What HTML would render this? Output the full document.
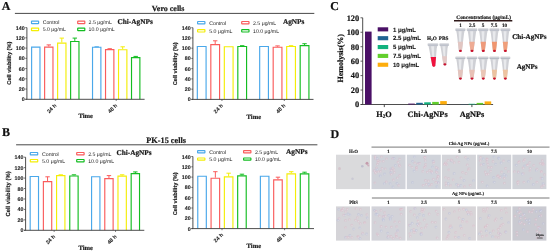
<!DOCTYPE html>
<html><head><meta charset="utf-8"><title>Figure</title>
<style>
html,body{margin:0;padding:0;background:#fff;}
body{width:550px;height:252px;overflow:hidden;}
svg{display:block;} text{text-rendering:geometricPrecision;}
</style></head>
<body>
<svg width="550" height="252" viewBox="0 0 550 252">
<defs><filter id="soft" x="-5%" y="-5%" width="110%" height="110%"><feGaussianBlur stdDeviation="0.35"/></filter></defs>
<rect width="550" height="252" fill="#ffffff"/>
<text x="1.7" y="10.3" font-family="'Liberation Serif', 'Times New Roman', serif" font-size="12" font-weight="bold" text-anchor="start" fill="#111" stroke="#111" stroke-width="0.2" >A</text>
<text x="1.9" y="136.4" font-family="'Liberation Serif', 'Times New Roman', serif" font-size="12" font-weight="bold" text-anchor="start" fill="#111" stroke="#111" stroke-width="0.2" >B</text>
<text x="330.3" y="10.1" font-family="'Liberation Serif', 'Times New Roman', serif" font-size="12" font-weight="bold" text-anchor="start" fill="#111" stroke="#111" stroke-width="0.2" >C</text>
<text x="330.4" y="137.9" font-family="'Liberation Serif', 'Times New Roman', serif" font-size="12" font-weight="bold" text-anchor="start" fill="#111" stroke="#111" stroke-width="0.2" >D</text>
<text x="151.8" y="10.6" font-family="'Liberation Serif', 'Times New Roman', serif" font-size="8.0" font-weight="bold" text-anchor="start" fill="#1a1a1a" stroke="#1a1a1a" stroke-width="0.2" >Vero cells</text>
<line x1="14.9" y1="13.4" x2="314.3" y2="13.4" stroke="#333" stroke-width="0.9"/>
<text x="146.3" y="142.5" font-family="'Liberation Serif', 'Times New Roman', serif" font-size="8.25" font-weight="bold" text-anchor="start" fill="#1a1a1a" stroke="#1a1a1a" stroke-width="0.2" >PK-15 cells</text>
<line x1="16.1" y1="144.8" x2="317.4" y2="144.8" stroke="#333" stroke-width="0.9"/>
<line x1="25.299999999999997" y1="99.3" x2="26.9" y2="99.3" stroke="#3a3a3a" stroke-width="0.7"/>
<text x="24.7" y="101.3" font-family="'Liberation Sans', Arial, sans-serif" font-size="5.3" font-weight="bold" text-anchor="end" fill="#222" stroke="#222" stroke-width="0.1" >0</text>
<line x1="25.299999999999997" y1="89.05714285714285" x2="26.9" y2="89.05714285714285" stroke="#3a3a3a" stroke-width="0.7"/>
<text x="24.7" y="91.05714285714285" font-family="'Liberation Sans', Arial, sans-serif" font-size="5.3" font-weight="bold" text-anchor="end" fill="#222" stroke="#222" stroke-width="0.1" >20</text>
<line x1="25.299999999999997" y1="78.81428571428572" x2="26.9" y2="78.81428571428572" stroke="#3a3a3a" stroke-width="0.7"/>
<text x="24.7" y="80.81428571428572" font-family="'Liberation Sans', Arial, sans-serif" font-size="5.3" font-weight="bold" text-anchor="end" fill="#222" stroke="#222" stroke-width="0.1" >40</text>
<line x1="25.299999999999997" y1="68.57142857142858" x2="26.9" y2="68.57142857142858" stroke="#3a3a3a" stroke-width="0.7"/>
<text x="24.7" y="70.57142857142858" font-family="'Liberation Sans', Arial, sans-serif" font-size="5.3" font-weight="bold" text-anchor="end" fill="#222" stroke="#222" stroke-width="0.1" >60</text>
<line x1="25.299999999999997" y1="58.328571428571436" x2="26.9" y2="58.328571428571436" stroke="#3a3a3a" stroke-width="0.7"/>
<text x="24.7" y="60.328571428571436" font-family="'Liberation Sans', Arial, sans-serif" font-size="5.3" font-weight="bold" text-anchor="end" fill="#222" stroke="#222" stroke-width="0.1" >80</text>
<line x1="25.299999999999997" y1="48.085714285714296" x2="26.9" y2="48.085714285714296" stroke="#3a3a3a" stroke-width="0.7"/>
<text x="24.7" y="50.085714285714296" font-family="'Liberation Sans', Arial, sans-serif" font-size="5.3" font-weight="bold" text-anchor="end" fill="#222" stroke="#222" stroke-width="0.1" >100</text>
<line x1="25.299999999999997" y1="37.842857142857156" x2="26.9" y2="37.842857142857156" stroke="#3a3a3a" stroke-width="0.7"/>
<text x="24.7" y="39.842857142857156" font-family="'Liberation Sans', Arial, sans-serif" font-size="5.3" font-weight="bold" text-anchor="end" fill="#222" stroke="#222" stroke-width="0.1" >120</text>
<line x1="25.299999999999997" y1="27.60000000000001" x2="26.9" y2="27.60000000000001" stroke="#3a3a3a" stroke-width="0.7"/>
<text x="24.7" y="29.60000000000001" font-family="'Liberation Sans', Arial, sans-serif" font-size="5.3" font-weight="bold" text-anchor="end" fill="#222" stroke="#222" stroke-width="0.1" >140</text>
<text x="10.6" y="63.2" font-family="'Liberation Sans', Arial, sans-serif" font-size="5.6" font-weight="bold" text-anchor="middle" fill="#1a1a1a" stroke="#1a1a1a" stroke-width="0.14" transform="rotate(-90 10.6 63.2)">Cell viability (%)</text>
<path d="M31.62 99.30V47.08H39.97V99.30" fill="none" stroke="#4aa8ea" stroke-width="1.15"/>
<path d="M44.62 99.30V47.08H52.97V99.30" fill="none" stroke="#fa5c5c" stroke-width="1.15"/>
<line x1="48.80" y1="46.50" x2="48.80" y2="44.90" stroke="#fa5c5c" stroke-width="1"/>
<line x1="46.60" y1="44.90" x2="51.00" y2="44.90" stroke="#fa5c5c" stroke-width="1"/>
<path d="M57.62 99.30V43.08H65.97V99.30" fill="none" stroke="#f4ee08" stroke-width="1.15"/>
<line x1="61.80" y1="42.50" x2="61.80" y2="38.10" stroke="#f4ee08" stroke-width="1"/>
<line x1="59.60" y1="38.10" x2="64.00" y2="38.10" stroke="#f4ee08" stroke-width="1"/>
<path d="M70.62 99.30V41.48H78.97V99.30" fill="none" stroke="#14bd22" stroke-width="1.15"/>
<line x1="74.80" y1="40.90" x2="74.80" y2="38.10" stroke="#14bd22" stroke-width="1"/>
<line x1="72.60" y1="38.10" x2="77.00" y2="38.10" stroke="#14bd22" stroke-width="1"/>
<line x1="55.3" y1="99.3" x2="55.3" y2="100.89999999999999" stroke="#3a3a3a" stroke-width="0.7"/>
<text x="56.80" y="105.90" font-family="'Liberation Sans', Arial, sans-serif" font-size="5.4" font-weight="bold" text-anchor="end" fill="#1a1a1a" stroke="#1a1a1a" stroke-width="0.05" transform="rotate(-45 56.80 105.90)">24 h</text>
<path d="M92.53 99.30V47.28H100.88V99.30" fill="none" stroke="#4aa8ea" stroke-width="1.15"/>
<line x1="96.70" y1="46.70" x2="96.70" y2="46.80" stroke="#4aa8ea" stroke-width="1"/>
<line x1="94.50" y1="46.80" x2="98.90" y2="46.80" stroke="#4aa8ea" stroke-width="1"/>
<path d="M105.53 99.30V49.58H113.88V99.30" fill="none" stroke="#fa5c5c" stroke-width="1.15"/>
<line x1="109.70" y1="49.00" x2="109.70" y2="48.70" stroke="#fa5c5c" stroke-width="1"/>
<line x1="107.50" y1="48.70" x2="111.90" y2="48.70" stroke="#fa5c5c" stroke-width="1"/>
<path d="M118.53 99.30V49.78H126.88V99.30" fill="none" stroke="#f4ee08" stroke-width="1.15"/>
<line x1="122.70" y1="49.20" x2="122.70" y2="46.80" stroke="#f4ee08" stroke-width="1"/>
<line x1="120.50" y1="46.80" x2="124.90" y2="46.80" stroke="#f4ee08" stroke-width="1"/>
<path d="M131.52 99.30V57.58H139.88V99.30" fill="none" stroke="#14bd22" stroke-width="1.15"/>
<line x1="135.70" y1="57.00" x2="135.70" y2="56.40" stroke="#14bd22" stroke-width="1"/>
<line x1="133.50" y1="56.40" x2="137.90" y2="56.40" stroke="#14bd22" stroke-width="1"/>
<line x1="116.2" y1="99.3" x2="116.2" y2="100.89999999999999" stroke="#3a3a3a" stroke-width="0.7"/>
<text x="117.70" y="105.90" font-family="'Liberation Sans', Arial, sans-serif" font-size="5.4" font-weight="bold" text-anchor="end" fill="#1a1a1a" stroke="#1a1a1a" stroke-width="0.05" transform="rotate(-45 117.70 105.90)">48 h</text>
<line x1="26.9" y1="27.6" x2="26.9" y2="99.3" stroke="#3a3a3a" stroke-width="0.9"/>
<line x1="25.4" y1="99.3" x2="144.6" y2="99.3" stroke="#3a3a3a" stroke-width="0.9"/>
<text x="78.5" y="118.4" font-family="'Liberation Serif', 'Times New Roman', serif" font-size="6.6" font-weight="bold" text-anchor="start" fill="#1a1a1a" stroke="#1a1a1a" stroke-width="0.2" >Time</text>
<rect x="31.50" y="21.20" width="7.10" height="2.40" fill="none" stroke="#4aa8ea" stroke-width="1.2" rx="0.4"/>
<text x="42.7" y="24.200000000000003" font-family="'Liberation Sans', Arial, sans-serif" font-size="5.2" font-weight="normal" text-anchor="start" fill="#222" >Control</text>
<rect x="77.70" y="21.20" width="7.10" height="2.40" fill="none" stroke="#fa5c5c" stroke-width="1.2" rx="0.4"/>
<text x="88.6" y="24.200000000000003" font-family="'Liberation Sans', Arial, sans-serif" font-size="5.2" font-weight="normal" text-anchor="start" fill="#222" >2.5 μg/mL</text>
<rect x="31.50" y="28.20" width="7.10" height="2.40" fill="none" stroke="#f4ee08" stroke-width="1.2" rx="0.4"/>
<text x="42.7" y="31.200000000000003" font-family="'Liberation Sans', Arial, sans-serif" font-size="5.2" font-weight="normal" text-anchor="start" fill="#222" >5.0 μg/mL</text>
<rect x="77.70" y="28.20" width="7.10" height="2.40" fill="none" stroke="#14bd22" stroke-width="1.2" rx="0.4"/>
<text x="88.6" y="31.200000000000003" font-family="'Liberation Sans', Arial, sans-serif" font-size="5.2" font-weight="normal" text-anchor="start" fill="#222" >10.0 μg/mL</text>
<text x="117.5" y="23.6" font-family="'Liberation Serif', 'Times New Roman', serif" font-size="7.3" font-weight="bold" text-anchor="start" fill="#1a1a1a" stroke="#1a1a1a" stroke-width="0.2" >Chi-AgNPs</text>
<line x1="191.3" y1="99.4" x2="192.9" y2="99.4" stroke="#3a3a3a" stroke-width="0.7"/>
<text x="190.70000000000002" y="101.4" font-family="'Liberation Sans', Arial, sans-serif" font-size="5.3" font-weight="bold" text-anchor="end" fill="#222" stroke="#222" stroke-width="0.1" >0</text>
<line x1="191.3" y1="89.15714285714286" x2="192.9" y2="89.15714285714286" stroke="#3a3a3a" stroke-width="0.7"/>
<text x="190.70000000000002" y="91.15714285714286" font-family="'Liberation Sans', Arial, sans-serif" font-size="5.3" font-weight="bold" text-anchor="end" fill="#222" stroke="#222" stroke-width="0.1" >20</text>
<line x1="191.3" y1="78.91428571428573" x2="192.9" y2="78.91428571428573" stroke="#3a3a3a" stroke-width="0.7"/>
<text x="190.70000000000002" y="80.91428571428573" font-family="'Liberation Sans', Arial, sans-serif" font-size="5.3" font-weight="bold" text-anchor="end" fill="#222" stroke="#222" stroke-width="0.1" >40</text>
<line x1="191.3" y1="68.67142857142858" x2="192.9" y2="68.67142857142858" stroke="#3a3a3a" stroke-width="0.7"/>
<text x="190.70000000000002" y="70.67142857142858" font-family="'Liberation Sans', Arial, sans-serif" font-size="5.3" font-weight="bold" text-anchor="end" fill="#222" stroke="#222" stroke-width="0.1" >60</text>
<line x1="191.3" y1="58.42857142857144" x2="192.9" y2="58.42857142857144" stroke="#3a3a3a" stroke-width="0.7"/>
<text x="190.70000000000002" y="60.42857142857144" font-family="'Liberation Sans', Arial, sans-serif" font-size="5.3" font-weight="bold" text-anchor="end" fill="#222" stroke="#222" stroke-width="0.1" >80</text>
<line x1="191.3" y1="48.18571428571429" x2="192.9" y2="48.18571428571429" stroke="#3a3a3a" stroke-width="0.7"/>
<text x="190.70000000000002" y="50.18571428571429" font-family="'Liberation Sans', Arial, sans-serif" font-size="5.3" font-weight="bold" text-anchor="end" fill="#222" stroke="#222" stroke-width="0.1" >100</text>
<line x1="191.3" y1="37.94285714285715" x2="192.9" y2="37.94285714285715" stroke="#3a3a3a" stroke-width="0.7"/>
<text x="190.70000000000002" y="39.94285714285715" font-family="'Liberation Sans', Arial, sans-serif" font-size="5.3" font-weight="bold" text-anchor="end" fill="#222" stroke="#222" stroke-width="0.1" >120</text>
<line x1="191.3" y1="27.700000000000003" x2="192.9" y2="27.700000000000003" stroke="#3a3a3a" stroke-width="0.7"/>
<text x="190.70000000000002" y="29.700000000000003" font-family="'Liberation Sans', Arial, sans-serif" font-size="5.3" font-weight="bold" text-anchor="end" fill="#222" stroke="#222" stroke-width="0.1" >140</text>
<text x="176.6" y="63.8" font-family="'Liberation Sans', Arial, sans-serif" font-size="5.6" font-weight="bold" text-anchor="middle" fill="#1a1a1a" stroke="#1a1a1a" stroke-width="0.14" transform="rotate(-90 176.6 63.8)">Cell viability (%)</text>
<path d="M197.32 99.40V46.48H206.08V99.40" fill="none" stroke="#4aa8ea" stroke-width="1.15"/>
<path d="M210.82 99.40V44.58H219.58V99.40" fill="none" stroke="#fa5c5c" stroke-width="1.15"/>
<line x1="215.20" y1="44.00" x2="215.20" y2="40.80" stroke="#fa5c5c" stroke-width="1"/>
<line x1="213.00" y1="40.80" x2="217.40" y2="40.80" stroke="#fa5c5c" stroke-width="1"/>
<path d="M224.32 99.40V46.78H233.08V99.40" fill="none" stroke="#f4ee08" stroke-width="1.15"/>
<path d="M237.82 99.40V46.48H246.58V99.40" fill="none" stroke="#14bd22" stroke-width="1.15"/>
<line x1="242.20" y1="45.90" x2="242.20" y2="45.70" stroke="#14bd22" stroke-width="1"/>
<line x1="240.00" y1="45.70" x2="244.40" y2="45.70" stroke="#14bd22" stroke-width="1"/>
<line x1="221.95" y1="99.4" x2="221.95" y2="101.0" stroke="#3a3a3a" stroke-width="0.7"/>
<text x="223.45" y="106.00" font-family="'Liberation Sans', Arial, sans-serif" font-size="5.4" font-weight="bold" text-anchor="end" fill="#1a1a1a" stroke="#1a1a1a" stroke-width="0.05" transform="rotate(-45 223.45 106.00)">24 h</text>
<path d="M259.68 99.40V46.48H268.43V99.40" fill="none" stroke="#4aa8ea" stroke-width="1.15"/>
<path d="M273.18 99.40V47.28H281.93V99.40" fill="none" stroke="#fa5c5c" stroke-width="1.15"/>
<line x1="277.55" y1="46.70" x2="277.55" y2="45.90" stroke="#fa5c5c" stroke-width="1"/>
<line x1="275.35" y1="45.90" x2="279.75" y2="45.90" stroke="#fa5c5c" stroke-width="1"/>
<path d="M286.68 99.40V46.48H295.43V99.40" fill="none" stroke="#f4ee08" stroke-width="1.15"/>
<line x1="291.05" y1="45.90" x2="291.05" y2="45.70" stroke="#f4ee08" stroke-width="1"/>
<line x1="288.85" y1="45.70" x2="293.25" y2="45.70" stroke="#f4ee08" stroke-width="1"/>
<path d="M300.18 99.40V45.58H308.93V99.40" fill="none" stroke="#14bd22" stroke-width="1.15"/>
<line x1="304.55" y1="45.00" x2="304.55" y2="43.70" stroke="#14bd22" stroke-width="1"/>
<line x1="302.35" y1="43.70" x2="306.75" y2="43.70" stroke="#14bd22" stroke-width="1"/>
<line x1="284.3" y1="99.4" x2="284.3" y2="101.0" stroke="#3a3a3a" stroke-width="0.7"/>
<text x="285.80" y="106.00" font-family="'Liberation Sans', Arial, sans-serif" font-size="5.4" font-weight="bold" text-anchor="end" fill="#1a1a1a" stroke="#1a1a1a" stroke-width="0.05" transform="rotate(-45 285.80 106.00)">48 h</text>
<line x1="192.9" y1="27.7" x2="192.9" y2="99.4" stroke="#3a3a3a" stroke-width="0.9"/>
<line x1="191.4" y1="99.4" x2="313.5" y2="99.4" stroke="#3a3a3a" stroke-width="0.9"/>
<text x="246.6" y="118.5" font-family="'Liberation Serif', 'Times New Roman', serif" font-size="6.6" font-weight="bold" text-anchor="start" fill="#1a1a1a" stroke="#1a1a1a" stroke-width="0.2" >Time</text>
<rect x="197.60" y="21.50" width="7.30" height="2.40" fill="none" stroke="#4aa8ea" stroke-width="1.2" rx="0.4"/>
<text x="209.3" y="24.5" font-family="'Liberation Sans', Arial, sans-serif" font-size="5.2" font-weight="normal" text-anchor="start" fill="#222" >Control</text>
<rect x="241.70" y="21.50" width="7.30" height="2.40" fill="none" stroke="#fa5c5c" stroke-width="1.2" rx="0.4"/>
<text x="253.0" y="24.5" font-family="'Liberation Sans', Arial, sans-serif" font-size="5.2" font-weight="normal" text-anchor="start" fill="#222" >2.5 μg/mL</text>
<rect x="197.60" y="29.60" width="7.30" height="2.40" fill="none" stroke="#f4ee08" stroke-width="1.2" rx="0.4"/>
<text x="209.3" y="32.6" font-family="'Liberation Sans', Arial, sans-serif" font-size="5.2" font-weight="normal" text-anchor="start" fill="#222" >5.0 μg/mL</text>
<rect x="241.70" y="29.60" width="7.30" height="2.40" fill="none" stroke="#14bd22" stroke-width="1.2" rx="0.4"/>
<text x="253.0" y="32.6" font-family="'Liberation Sans', Arial, sans-serif" font-size="5.2" font-weight="normal" text-anchor="start" fill="#222" >10.0 μg/mL</text>
<text x="282.9" y="23.6" font-family="'Liberation Serif', 'Times New Roman', serif" font-size="7.3" font-weight="bold" text-anchor="start" fill="#1a1a1a" stroke="#1a1a1a" stroke-width="0.2" >AgNPs</text>
<line x1="24.0" y1="230.3" x2="25.6" y2="230.3" stroke="#3a3a3a" stroke-width="0.7"/>
<text x="23.400000000000002" y="232.3" font-family="'Liberation Sans', Arial, sans-serif" font-size="5.3" font-weight="bold" text-anchor="end" fill="#222" stroke="#222" stroke-width="0.1" >0</text>
<line x1="24.0" y1="219.85714285714286" x2="25.6" y2="219.85714285714286" stroke="#3a3a3a" stroke-width="0.7"/>
<text x="23.400000000000002" y="221.85714285714286" font-family="'Liberation Sans', Arial, sans-serif" font-size="5.3" font-weight="bold" text-anchor="end" fill="#222" stroke="#222" stroke-width="0.1" >20</text>
<line x1="24.0" y1="209.4142857142857" x2="25.6" y2="209.4142857142857" stroke="#3a3a3a" stroke-width="0.7"/>
<text x="23.400000000000002" y="211.4142857142857" font-family="'Liberation Sans', Arial, sans-serif" font-size="5.3" font-weight="bold" text-anchor="end" fill="#222" stroke="#222" stroke-width="0.1" >40</text>
<line x1="24.0" y1="198.97142857142856" x2="25.6" y2="198.97142857142856" stroke="#3a3a3a" stroke-width="0.7"/>
<text x="23.400000000000002" y="200.97142857142856" font-family="'Liberation Sans', Arial, sans-serif" font-size="5.3" font-weight="bold" text-anchor="end" fill="#222" stroke="#222" stroke-width="0.1" >60</text>
<line x1="24.0" y1="188.5285714285714" x2="25.6" y2="188.5285714285714" stroke="#3a3a3a" stroke-width="0.7"/>
<text x="23.400000000000002" y="190.5285714285714" font-family="'Liberation Sans', Arial, sans-serif" font-size="5.3" font-weight="bold" text-anchor="end" fill="#222" stroke="#222" stroke-width="0.1" >80</text>
<line x1="24.0" y1="178.0857142857143" x2="25.6" y2="178.0857142857143" stroke="#3a3a3a" stroke-width="0.7"/>
<text x="23.400000000000002" y="180.0857142857143" font-family="'Liberation Sans', Arial, sans-serif" font-size="5.3" font-weight="bold" text-anchor="end" fill="#222" stroke="#222" stroke-width="0.1" >100</text>
<line x1="24.0" y1="167.64285714285714" x2="25.6" y2="167.64285714285714" stroke="#3a3a3a" stroke-width="0.7"/>
<text x="23.400000000000002" y="169.64285714285714" font-family="'Liberation Sans', Arial, sans-serif" font-size="5.3" font-weight="bold" text-anchor="end" fill="#222" stroke="#222" stroke-width="0.1" >120</text>
<line x1="24.0" y1="157.2" x2="25.6" y2="157.2" stroke="#3a3a3a" stroke-width="0.7"/>
<text x="23.400000000000002" y="159.2" font-family="'Liberation Sans', Arial, sans-serif" font-size="5.3" font-weight="bold" text-anchor="end" fill="#222" stroke="#222" stroke-width="0.1" >140</text>
<text x="9.8" y="194.0" font-family="'Liberation Sans', Arial, sans-serif" font-size="5.9" font-weight="bold" text-anchor="middle" fill="#1a1a1a" stroke="#1a1a1a" stroke-width="0.14" transform="rotate(-90 9.8 194.0)">Cell viability (%)</text>
<path d="M30.18 230.30V176.47H38.52V230.30" fill="none" stroke="#4aa8ea" stroke-width="1.15"/>
<path d="M43.38 230.30V181.67H51.72V230.30" fill="none" stroke="#fa5c5c" stroke-width="1.15"/>
<line x1="47.55" y1="181.10" x2="47.55" y2="176.80" stroke="#fa5c5c" stroke-width="1"/>
<line x1="45.35" y1="176.80" x2="49.75" y2="176.80" stroke="#fa5c5c" stroke-width="1"/>
<path d="M56.58 230.30V175.67H64.92V230.30" fill="none" stroke="#f4ee08" stroke-width="1.15"/>
<line x1="60.75" y1="175.10" x2="60.75" y2="174.80" stroke="#f4ee08" stroke-width="1"/>
<line x1="58.55" y1="174.80" x2="62.95" y2="174.80" stroke="#f4ee08" stroke-width="1"/>
<path d="M69.77 230.30V175.97H78.12V230.30" fill="none" stroke="#14bd22" stroke-width="1.15"/>
<line x1="73.95" y1="175.40" x2="73.95" y2="174.80" stroke="#14bd22" stroke-width="1"/>
<line x1="71.75" y1="174.80" x2="76.15" y2="174.80" stroke="#14bd22" stroke-width="1"/>
<line x1="54.15" y1="230.3" x2="54.15" y2="231.9" stroke="#3a3a3a" stroke-width="0.7"/>
<text x="55.65" y="236.90" font-family="'Liberation Sans', Arial, sans-serif" font-size="5.4" font-weight="bold" text-anchor="end" fill="#1a1a1a" stroke="#1a1a1a" stroke-width="0.05" transform="rotate(-45 55.65 236.90)">24 h</text>
<path d="M91.58 230.30V176.77H99.92V230.30" fill="none" stroke="#4aa8ea" stroke-width="1.15"/>
<path d="M104.78 230.30V178.57H113.12V230.30" fill="none" stroke="#fa5c5c" stroke-width="1.15"/>
<line x1="108.95" y1="178.00" x2="108.95" y2="175.60" stroke="#fa5c5c" stroke-width="1"/>
<line x1="106.75" y1="175.60" x2="111.15" y2="175.60" stroke="#fa5c5c" stroke-width="1"/>
<path d="M117.98 230.30V176.17H126.33V230.30" fill="none" stroke="#f4ee08" stroke-width="1.15"/>
<line x1="122.15" y1="175.60" x2="122.15" y2="174.80" stroke="#f4ee08" stroke-width="1"/>
<line x1="119.95" y1="174.80" x2="124.35" y2="174.80" stroke="#f4ee08" stroke-width="1"/>
<path d="M131.17 230.30V173.57H139.53V230.30" fill="none" stroke="#14bd22" stroke-width="1.15"/>
<line x1="135.35" y1="173.00" x2="135.35" y2="171.90" stroke="#14bd22" stroke-width="1"/>
<line x1="133.15" y1="171.90" x2="137.55" y2="171.90" stroke="#14bd22" stroke-width="1"/>
<line x1="115.55" y1="230.3" x2="115.55" y2="231.9" stroke="#3a3a3a" stroke-width="0.7"/>
<text x="117.05" y="236.90" font-family="'Liberation Sans', Arial, sans-serif" font-size="5.4" font-weight="bold" text-anchor="end" fill="#1a1a1a" stroke="#1a1a1a" stroke-width="0.05" transform="rotate(-45 117.05 236.90)">48 h</text>
<line x1="25.6" y1="157.2" x2="25.6" y2="230.3" stroke="#3a3a3a" stroke-width="0.9"/>
<line x1="24.1" y1="230.3" x2="144.3" y2="230.3" stroke="#3a3a3a" stroke-width="0.9"/>
<text x="78.4" y="249.7" font-family="'Liberation Serif', 'Times New Roman', serif" font-size="6.6" font-weight="bold" text-anchor="start" fill="#1a1a1a" stroke="#1a1a1a" stroke-width="0.2" >Time</text>
<rect x="30.30" y="152.50" width="7.40" height="2.40" fill="none" stroke="#4aa8ea" stroke-width="1.2" rx="0.4"/>
<text x="42.0" y="155.50000000000003" font-family="'Liberation Sans', Arial, sans-serif" font-size="5.2" font-weight="normal" text-anchor="start" fill="#222" >Control</text>
<rect x="76.70" y="152.50" width="7.40" height="2.40" fill="none" stroke="#fa5c5c" stroke-width="1.2" rx="0.4"/>
<text x="88.2" y="155.50000000000003" font-family="'Liberation Sans', Arial, sans-serif" font-size="5.2" font-weight="normal" text-anchor="start" fill="#222" >2.5 μg/mL</text>
<rect x="30.30" y="159.50" width="7.40" height="2.40" fill="none" stroke="#f4ee08" stroke-width="1.2" rx="0.4"/>
<text x="42.0" y="162.50000000000003" font-family="'Liberation Sans', Arial, sans-serif" font-size="5.2" font-weight="normal" text-anchor="start" fill="#222" >5.0 μg/mL</text>
<rect x="76.70" y="159.50" width="7.40" height="2.40" fill="none" stroke="#14bd22" stroke-width="1.2" rx="0.4"/>
<text x="88.2" y="162.50000000000003" font-family="'Liberation Sans', Arial, sans-serif" font-size="5.2" font-weight="normal" text-anchor="start" fill="#222" >10.0 μg/mL</text>
<text x="116.4" y="154.5" font-family="'Liberation Serif', 'Times New Roman', serif" font-size="7.3" font-weight="bold" text-anchor="start" fill="#1a1a1a" stroke="#1a1a1a" stroke-width="0.2" >Chi-AgNPs</text>
<line x1="191.3" y1="228.6" x2="192.9" y2="228.6" stroke="#3a3a3a" stroke-width="0.7"/>
<text x="190.70000000000002" y="230.6" font-family="'Liberation Sans', Arial, sans-serif" font-size="5.3" font-weight="bold" text-anchor="end" fill="#222" stroke="#222" stroke-width="0.1" >0</text>
<line x1="191.3" y1="218.29999999999998" x2="192.9" y2="218.29999999999998" stroke="#3a3a3a" stroke-width="0.7"/>
<text x="190.70000000000002" y="220.29999999999998" font-family="'Liberation Sans', Arial, sans-serif" font-size="5.3" font-weight="bold" text-anchor="end" fill="#222" stroke="#222" stroke-width="0.1" >20</text>
<line x1="191.3" y1="208.0" x2="192.9" y2="208.0" stroke="#3a3a3a" stroke-width="0.7"/>
<text x="190.70000000000002" y="210.0" font-family="'Liberation Sans', Arial, sans-serif" font-size="5.3" font-weight="bold" text-anchor="end" fill="#222" stroke="#222" stroke-width="0.1" >40</text>
<line x1="191.3" y1="197.7" x2="192.9" y2="197.7" stroke="#3a3a3a" stroke-width="0.7"/>
<text x="190.70000000000002" y="199.7" font-family="'Liberation Sans', Arial, sans-serif" font-size="5.3" font-weight="bold" text-anchor="end" fill="#222" stroke="#222" stroke-width="0.1" >60</text>
<line x1="191.3" y1="187.39999999999998" x2="192.9" y2="187.39999999999998" stroke="#3a3a3a" stroke-width="0.7"/>
<text x="190.70000000000002" y="189.39999999999998" font-family="'Liberation Sans', Arial, sans-serif" font-size="5.3" font-weight="bold" text-anchor="end" fill="#222" stroke="#222" stroke-width="0.1" >80</text>
<line x1="191.3" y1="177.1" x2="192.9" y2="177.1" stroke="#3a3a3a" stroke-width="0.7"/>
<text x="190.70000000000002" y="179.1" font-family="'Liberation Sans', Arial, sans-serif" font-size="5.3" font-weight="bold" text-anchor="end" fill="#222" stroke="#222" stroke-width="0.1" >100</text>
<line x1="191.3" y1="166.79999999999998" x2="192.9" y2="166.79999999999998" stroke="#3a3a3a" stroke-width="0.7"/>
<text x="190.70000000000002" y="168.79999999999998" font-family="'Liberation Sans', Arial, sans-serif" font-size="5.3" font-weight="bold" text-anchor="end" fill="#222" stroke="#222" stroke-width="0.1" >120</text>
<line x1="191.3" y1="156.5" x2="192.9" y2="156.5" stroke="#3a3a3a" stroke-width="0.7"/>
<text x="190.70000000000002" y="158.5" font-family="'Liberation Sans', Arial, sans-serif" font-size="5.3" font-weight="bold" text-anchor="end" fill="#222" stroke="#222" stroke-width="0.1" >140</text>
<text x="176.6" y="193.8" font-family="'Liberation Sans', Arial, sans-serif" font-size="5.6" font-weight="bold" text-anchor="middle" fill="#1a1a1a" stroke="#1a1a1a" stroke-width="0.14" transform="rotate(-90 176.6 193.8)">Cell viability (%)</text>
<path d="M197.77 228.60V176.27H206.32V228.60" fill="none" stroke="#4aa8ea" stroke-width="1.15"/>
<path d="M211.07 228.60V178.27H219.62V228.60" fill="none" stroke="#fa5c5c" stroke-width="1.15"/>
<line x1="215.35" y1="177.70" x2="215.35" y2="171.70" stroke="#fa5c5c" stroke-width="1"/>
<line x1="213.15" y1="171.70" x2="217.55" y2="171.70" stroke="#fa5c5c" stroke-width="1"/>
<path d="M224.37 228.60V176.88H232.92V228.60" fill="none" stroke="#f4ee08" stroke-width="1.15"/>
<line x1="228.65" y1="176.30" x2="228.65" y2="173.20" stroke="#f4ee08" stroke-width="1"/>
<line x1="226.45" y1="173.20" x2="230.85" y2="173.20" stroke="#f4ee08" stroke-width="1"/>
<path d="M237.67 228.60V175.88H246.22V228.60" fill="none" stroke="#14bd22" stroke-width="1.15"/>
<line x1="241.95" y1="175.30" x2="241.95" y2="174.20" stroke="#14bd22" stroke-width="1"/>
<line x1="239.75" y1="174.20" x2="244.15" y2="174.20" stroke="#14bd22" stroke-width="1"/>
<line x1="222.0" y1="228.6" x2="222.0" y2="230.2" stroke="#3a3a3a" stroke-width="0.7"/>
<text x="223.50" y="235.20" font-family="'Liberation Sans', Arial, sans-serif" font-size="5.4" font-weight="bold" text-anchor="end" fill="#1a1a1a" stroke="#1a1a1a" stroke-width="0.05" transform="rotate(-45 223.50 235.20)">24 h</text>
<path d="M260.38 228.60V176.27H268.93V228.60" fill="none" stroke="#4aa8ea" stroke-width="1.15"/>
<path d="M273.68 228.60V179.88H282.23V228.60" fill="none" stroke="#fa5c5c" stroke-width="1.15"/>
<line x1="277.95" y1="179.30" x2="277.95" y2="177.20" stroke="#fa5c5c" stroke-width="1"/>
<line x1="275.75" y1="177.20" x2="280.15" y2="177.20" stroke="#fa5c5c" stroke-width="1"/>
<path d="M286.98 228.60V173.88H295.53V228.60" fill="none" stroke="#f4ee08" stroke-width="1.15"/>
<line x1="291.25" y1="173.30" x2="291.25" y2="171.70" stroke="#f4ee08" stroke-width="1"/>
<line x1="289.05" y1="171.70" x2="293.45" y2="171.70" stroke="#f4ee08" stroke-width="1"/>
<path d="M300.28 228.60V173.88H308.83V228.60" fill="none" stroke="#14bd22" stroke-width="1.15"/>
<line x1="304.55" y1="173.30" x2="304.55" y2="172.20" stroke="#14bd22" stroke-width="1"/>
<line x1="302.35" y1="172.20" x2="306.75" y2="172.20" stroke="#14bd22" stroke-width="1"/>
<line x1="284.6" y1="228.6" x2="284.6" y2="230.2" stroke="#3a3a3a" stroke-width="0.7"/>
<text x="286.10" y="235.20" font-family="'Liberation Sans', Arial, sans-serif" font-size="5.4" font-weight="bold" text-anchor="end" fill="#1a1a1a" stroke="#1a1a1a" stroke-width="0.05" transform="rotate(-45 286.10 235.20)">48 h</text>
<line x1="192.9" y1="156.5" x2="192.9" y2="228.6" stroke="#3a3a3a" stroke-width="0.9"/>
<line x1="191.4" y1="228.6" x2="314.0" y2="228.6" stroke="#3a3a3a" stroke-width="0.9"/>
<text x="246.6" y="248.2" font-family="'Liberation Serif', 'Times New Roman', serif" font-size="6.6" font-weight="bold" text-anchor="start" fill="#1a1a1a" stroke="#1a1a1a" stroke-width="0.2" >Time</text>
<rect x="197.60" y="150.70" width="7.30" height="2.20" fill="none" stroke="#4aa8ea" stroke-width="1.2" rx="0.4"/>
<text x="209.3" y="153.6" font-family="'Liberation Sans', Arial, sans-serif" font-size="5.2" font-weight="normal" text-anchor="start" fill="#222" >Control</text>
<rect x="243.60" y="150.70" width="7.30" height="2.20" fill="none" stroke="#fa5c5c" stroke-width="1.2" rx="0.4"/>
<text x="254.9" y="153.6" font-family="'Liberation Sans', Arial, sans-serif" font-size="5.2" font-weight="normal" text-anchor="start" fill="#222" >2.5 μg/mL</text>
<rect x="197.60" y="158.00" width="7.30" height="2.20" fill="none" stroke="#f4ee08" stroke-width="1.2" rx="0.4"/>
<text x="209.3" y="160.9" font-family="'Liberation Sans', Arial, sans-serif" font-size="5.2" font-weight="normal" text-anchor="start" fill="#222" >5.0 μg/mL</text>
<rect x="243.60" y="158.00" width="7.30" height="2.20" fill="none" stroke="#14bd22" stroke-width="1.2" rx="0.4"/>
<text x="254.9" y="160.9" font-family="'Liberation Sans', Arial, sans-serif" font-size="5.2" font-weight="normal" text-anchor="start" fill="#222" >10.0 μg/mL</text>
<text x="286.0" y="154.3" font-family="'Liberation Serif', 'Times New Roman', serif" font-size="7.3" font-weight="bold" text-anchor="start" fill="#1a1a1a" stroke="#1a1a1a" stroke-width="0.2" >AgNPs</text>
<line x1="362.7" y1="17.8" x2="362.7" y2="104.5" stroke="#3a3a3a" stroke-width="0.9"/>
<line x1="360.7" y1="104.5" x2="493.1" y2="104.5" stroke="#3a3a3a" stroke-width="0.9"/>
<line x1="360.5" y1="104.5" x2="362.7" y2="104.5" stroke="#3a3a3a" stroke-width="0.8"/>
<text x="359.2" y="107.3" font-family="'Liberation Serif', 'Times New Roman', serif" font-size="8.4" font-weight="bold" text-anchor="end" fill="#111" stroke="#111" stroke-width="0.15" >0</text>
<line x1="360.5" y1="90.05" x2="362.7" y2="90.05" stroke="#3a3a3a" stroke-width="0.8"/>
<text x="359.2" y="92.85" font-family="'Liberation Serif', 'Times New Roman', serif" font-size="8.4" font-weight="bold" text-anchor="end" fill="#111" stroke="#111" stroke-width="0.15" >20</text>
<line x1="360.5" y1="75.6" x2="362.7" y2="75.6" stroke="#3a3a3a" stroke-width="0.8"/>
<text x="359.2" y="78.39999999999999" font-family="'Liberation Serif', 'Times New Roman', serif" font-size="8.4" font-weight="bold" text-anchor="end" fill="#111" stroke="#111" stroke-width="0.15" >40</text>
<line x1="360.5" y1="61.15" x2="362.7" y2="61.15" stroke="#3a3a3a" stroke-width="0.8"/>
<text x="359.2" y="63.949999999999996" font-family="'Liberation Serif', 'Times New Roman', serif" font-size="8.4" font-weight="bold" text-anchor="end" fill="#111" stroke="#111" stroke-width="0.15" >60</text>
<line x1="360.5" y1="46.699999999999996" x2="362.7" y2="46.699999999999996" stroke="#3a3a3a" stroke-width="0.8"/>
<text x="359.2" y="49.49999999999999" font-family="'Liberation Serif', 'Times New Roman', serif" font-size="8.4" font-weight="bold" text-anchor="end" fill="#111" stroke="#111" stroke-width="0.15" >80</text>
<line x1="360.5" y1="32.25" x2="362.7" y2="32.25" stroke="#3a3a3a" stroke-width="0.8"/>
<text x="359.2" y="35.05" font-family="'Liberation Serif', 'Times New Roman', serif" font-size="8.4" font-weight="bold" text-anchor="end" fill="#111" stroke="#111" stroke-width="0.15" >100</text>
<line x1="360.5" y1="17.799999999999997" x2="362.7" y2="17.799999999999997" stroke="#3a3a3a" stroke-width="0.8"/>
<text x="359.2" y="20.599999999999998" font-family="'Liberation Serif', 'Times New Roman', serif" font-size="8.4" font-weight="bold" text-anchor="end" fill="#111" stroke="#111" stroke-width="0.15" >120</text>
<text x="342.6" y="58.2" font-family="'Liberation Serif', 'Times New Roman', serif" font-size="8" font-weight="bold" text-anchor="middle" fill="#111" stroke="#111" stroke-width="0.2" transform="rotate(-90 342.6 58.2)">Hemolysis(%)</text>
<rect x="365.00" y="31.60" width="6.6" height="72.90" fill="#4a1066"/>
<line x1="384.3" y1="104.5" x2="384.3" y2="107.1" stroke="#3a3a3a" stroke-width="0.9"/>
<rect x="408.20" y="103.60" width="6.6" height="0.90" fill="#4a1066"/>
<rect x="416.20" y="102.80" width="6.6" height="1.70" fill="#1f6392"/>
<rect x="424.20" y="102.30" width="6.6" height="2.20" fill="#12b27e"/>
<rect x="432.20" y="101.90" width="6.6" height="2.60" fill="#62cf2c"/>
<rect x="440.20" y="101.10" width="6.6" height="3.40" fill="#fdad0c"/>
<line x1="427.5" y1="104.5" x2="427.5" y2="107.1" stroke="#3a3a3a" stroke-width="0.9"/>
<rect x="460.60" y="104.30" width="6.6" height="0.20" fill="#1f6392"/>
<rect x="468.60" y="103.80" width="6.6" height="0.70" fill="#12b27e"/>
<rect x="476.60" y="102.90" width="6.6" height="1.60" fill="#62cf2c"/>
<rect x="484.60" y="101.40" width="6.6" height="3.10" fill="#fdad0c"/>
<line x1="471.9" y1="104.5" x2="471.9" y2="107.1" stroke="#3a3a3a" stroke-width="0.9"/>
<text x="376.2" y="117.0" font-family="'Liberation Serif', 'Times New Roman', serif" font-size="8.3" font-weight="bold" text-anchor="start" fill="#111" stroke="#111" stroke-width="0.2" >H<tspan font-size="5.2" dy="1.2">2</tspan><tspan dy="-1.2">O</tspan></text>
<text x="427.6" y="117.0" font-family="'Liberation Serif', 'Times New Roman', serif" font-size="8.3" font-weight="bold" text-anchor="middle" fill="#111" stroke="#111" stroke-width="0.2" >Chi-AgNPs</text>
<text x="472.0" y="117.0" font-family="'Liberation Serif', 'Times New Roman', serif" font-size="8.3" font-weight="bold" text-anchor="middle" fill="#111" stroke="#111" stroke-width="0.2" >AgNPs</text>
<rect x="377.7" y="27.30" width="10.5" height="4.1" fill="#4a1066"/>
<text x="392.9" y="31.5" font-family="'Liberation Sans', Arial, sans-serif" font-size="6.0" font-weight="bold" text-anchor="start" fill="#111" stroke="#111" stroke-width="0.1" >1 μg/mL</text>
<rect x="377.7" y="36.15" width="10.5" height="4.1" fill="#1f6392"/>
<text x="392.9" y="40.35" font-family="'Liberation Sans', Arial, sans-serif" font-size="6.0" font-weight="bold" text-anchor="start" fill="#111" stroke="#111" stroke-width="0.1" >2.5 μg/mL</text>
<rect x="377.7" y="45.00" width="10.5" height="4.1" fill="#12b27e"/>
<text x="392.9" y="49.2" font-family="'Liberation Sans', Arial, sans-serif" font-size="6.0" font-weight="bold" text-anchor="start" fill="#111" stroke="#111" stroke-width="0.1" >5 μg/mL</text>
<rect x="377.7" y="53.85" width="10.5" height="4.1" fill="#62cf2c"/>
<text x="392.9" y="58.05" font-family="'Liberation Sans', Arial, sans-serif" font-size="6.0" font-weight="bold" text-anchor="start" fill="#111" stroke="#111" stroke-width="0.1" >7.5 μg/mL</text>
<rect x="377.7" y="62.70" width="10.5" height="4.1" fill="#fdad0c"/>
<text x="392.9" y="66.9" font-family="'Liberation Sans', Arial, sans-serif" font-size="6.0" font-weight="bold" text-anchor="start" fill="#111" stroke="#111" stroke-width="0.1" >10 μg/mL</text>
<text x="431.8" y="40.3" font-family="'Liberation Serif', 'Times New Roman', serif" font-size="5.2" font-weight="bold" text-anchor="middle" fill="#222" stroke="#222" stroke-width="0.2" >H<tspan font-size="3.4" dy="0.6">2</tspan><tspan dy="-0.6">O</tspan></text>
<text x="443.6" y="40.3" font-family="'Liberation Serif', 'Times New Roman', serif" font-size="5.2" font-weight="bold" text-anchor="middle" fill="#222" stroke="#222" stroke-width="0.2" >PBS</text>
<polygon points="428.50,45.70 437.30,45.70 436.70,48.70 435.30,66.00 433.80,67.00 432.30,66.00 429.10,48.70" fill="#cfd0d5"/>
<polygon points="431.10,46.20 434.10,46.20 434.10,62.00 433.00,62.00" fill="#e8e9ec"/>
<polygon points="430.62,56.90 436.04,56.90 435.30,66.00 433.80,67.00 432.30,66.00" fill="#f0123e"/>
<rect x="427.50" y="43.30" width="10.80" height="2.6" rx="0.9" fill="#d3d5da"/>
<rect x="428.10" y="44.70" width="9.60" height="0.8" fill="#aab0bd"/>
<polygon points="440.30,45.70 448.10,45.70 447.50,48.70 446.40,64.60 444.90,65.60 443.40,64.60 440.90,48.70" fill="#cfd0d5"/>
<polygon points="442.40,46.20 445.40,46.20 445.20,60.60 444.10,60.60" fill="#e8e9ec"/>
<polygon points="442.09,56.30 446.97,56.30 446.40,64.60 444.90,65.60 443.40,64.60" fill="#e3c9c6"/>
<ellipse cx="444.90" cy="64.40" rx="1.45" ry="1.05" fill="#c80f2e"/>
<rect x="439.30" y="43.30" width="9.80" height="2.6" rx="0.9" fill="#d3d5da"/>
<rect x="439.90" y="44.70" width="8.60" height="0.8" fill="#aab0bd"/>
<text x="483.7" y="18.7" font-family="'Liberation Serif', 'Times New Roman', serif" font-size="5.3" font-weight="bold" text-anchor="middle" fill="#222" stroke="#222" stroke-width="0.2" >Concentrations  (μg/mL)</text>
<line x1="454.0" y1="20.7" x2="512.3" y2="20.7" stroke="#2e1818" stroke-width="1.6"/>
<text x="460.5" y="26.9" font-family="'Liberation Serif', 'Times New Roman', serif" font-size="5.2" font-weight="bold" text-anchor="middle" fill="#222" stroke="#222" stroke-width="0.15" >1</text>
<text x="472.2" y="26.9" font-family="'Liberation Serif', 'Times New Roman', serif" font-size="5.2" font-weight="bold" text-anchor="middle" fill="#222" stroke="#222" stroke-width="0.15" >2.5</text>
<text x="483.0" y="26.9" font-family="'Liberation Serif', 'Times New Roman', serif" font-size="5.2" font-weight="bold" text-anchor="middle" fill="#222" stroke="#222" stroke-width="0.15" >5</text>
<text x="494.0" y="26.9" font-family="'Liberation Serif', 'Times New Roman', serif" font-size="5.2" font-weight="bold" text-anchor="middle" fill="#222" stroke="#222" stroke-width="0.15" >7.5</text>
<text x="504.6" y="26.9" font-family="'Liberation Serif', 'Times New Roman', serif" font-size="5.2" font-weight="bold" text-anchor="middle" fill="#222" stroke="#222" stroke-width="0.15" >10</text>
<polygon points="456.20,30.70 464.60,30.70 464.00,33.70 461.90,51.10 460.40,52.10 458.90,51.10 456.80,33.70" fill="#cfd0d5"/>
<polygon points="458.60,31.20 461.60,31.20 460.70,47.10 459.60,47.10" fill="#e8e9ec"/>
<polygon points="457.78,41.80 463.02,41.80 461.90,51.10 460.40,52.10 458.90,51.10" fill="#e2c6c2"/>
<ellipse cx="460.40" cy="50.90" rx="1.45" ry="1.05" fill="#c80f2e"/>
<rect x="455.20" y="28.30" width="10.40" height="2.6" rx="0.9" fill="#d3d5da"/>
<rect x="455.80" y="29.70" width="9.20" height="0.8" fill="#aab0bd"/>
<polygon points="467.60,30.70 476.40,30.70 475.80,33.70 473.50,51.10 472.00,52.10 470.50,51.10 468.20,33.70" fill="#cfd0d5"/>
<polygon points="470.20,31.20 473.20,31.20 472.30,47.10 471.20,47.10" fill="#e8e9ec"/>
<polygon points="469.27,41.80 474.73,41.80 473.50,51.10 472.00,52.10 470.50,51.10" fill="#eeab94"/>
<ellipse cx="472.00" cy="50.90" rx="1.45" ry="1.05" fill="#c80f2e"/>
<rect x="466.60" y="28.30" width="10.80" height="2.6" rx="0.9" fill="#d3d5da"/>
<rect x="467.20" y="29.70" width="9.60" height="0.8" fill="#aab0bd"/>
<polygon points="479.00,30.70 487.60,30.70 487.00,33.70 484.80,51.10 483.30,52.10 481.80,51.10 479.60,33.70" fill="#cfd0d5"/>
<polygon points="481.50,31.20 484.50,31.20 483.60,47.10 482.50,47.10" fill="#e8e9ec"/>
<polygon points="480.62,41.80 485.98,41.80 484.80,51.10 483.30,52.10 481.80,51.10" fill="#ef9a7a"/>
<ellipse cx="483.30" cy="50.90" rx="1.45" ry="1.05" fill="#c80f2e"/>
<rect x="478.00" y="28.30" width="10.60" height="2.6" rx="0.9" fill="#d3d5da"/>
<rect x="478.60" y="29.70" width="9.40" height="0.8" fill="#aab0bd"/>
<polygon points="490.30,30.70 498.60,30.70 498.00,33.70 495.95,51.10 494.45,52.10 492.95,51.10 490.90,33.70" fill="#cfd0d5"/>
<polygon points="492.65,31.20 495.65,31.20 494.75,47.10 493.65,47.10" fill="#e8e9ec"/>
<polygon points="491.85,41.80 497.05,41.80 495.95,51.10 494.45,52.10 492.95,51.10" fill="#f0966f"/>
<ellipse cx="494.45" cy="50.90" rx="1.45" ry="1.05" fill="#c80f2e"/>
<rect x="489.30" y="28.30" width="10.30" height="2.6" rx="0.9" fill="#d3d5da"/>
<rect x="489.90" y="29.70" width="9.10" height="0.8" fill="#aab0bd"/>
<polygon points="501.30,30.70 509.40,30.70 508.80,33.70 506.85,51.10 505.35,52.10 503.85,51.10 501.90,33.70" fill="#cfd0d5"/>
<polygon points="503.55,31.20 506.55,31.20 505.65,47.10 504.55,47.10" fill="#e8e9ec"/>
<polygon points="502.81,41.80 507.89,41.80 506.85,51.10 505.35,52.10 503.85,51.10" fill="#f09f7a"/>
<ellipse cx="505.35" cy="50.90" rx="1.45" ry="1.05" fill="#c80f2e"/>
<rect x="500.30" y="28.30" width="10.10" height="2.6" rx="0.9" fill="#d3d5da"/>
<rect x="500.90" y="29.70" width="8.90" height="0.8" fill="#aab0bd"/>
<polygon points="456.20,58.90 464.60,58.90 464.00,61.90 461.90,78.80 460.40,79.80 458.90,78.80 456.80,61.90" fill="#cfd0d5"/>
<polygon points="458.60,59.40 461.60,59.40 460.70,74.80 459.60,74.80" fill="#e8e9ec"/>
<polygon points="457.78,69.80 463.02,69.80 461.90,78.80 460.40,79.80 458.90,78.80" fill="#e4c4bd"/>
<ellipse cx="460.40" cy="78.60" rx="1.45" ry="1.05" fill="#c80f2e"/>
<rect x="455.20" y="56.50" width="10.40" height="2.6" rx="0.9" fill="#d3d5da"/>
<rect x="455.80" y="57.90" width="9.20" height="0.8" fill="#aab0bd"/>
<polygon points="467.60,58.90 476.40,58.90 475.80,61.90 473.50,78.80 472.00,79.80 470.50,78.80 468.20,61.90" fill="#cfd0d5"/>
<polygon points="470.20,59.40 473.20,59.40 472.30,74.80 471.20,74.80" fill="#e8e9ec"/>
<polygon points="469.28,69.80 474.72,69.80 473.50,78.80 472.00,79.80 470.50,78.80" fill="#e8c1b6"/>
<ellipse cx="472.00" cy="78.60" rx="1.45" ry="1.05" fill="#c80f2e"/>
<rect x="466.60" y="56.50" width="10.80" height="2.6" rx="0.9" fill="#d3d5da"/>
<rect x="467.20" y="57.90" width="9.60" height="0.8" fill="#aab0bd"/>
<polygon points="479.00,58.90 487.60,58.90 487.00,61.90 484.80,78.80 483.30,79.80 481.80,78.80 479.60,61.90" fill="#cfd0d5"/>
<polygon points="481.50,59.40 484.50,59.40 483.60,74.80 482.50,74.80" fill="#e8e9ec"/>
<polygon points="480.63,69.80 485.97,69.80 484.80,78.80 483.30,79.80 481.80,78.80" fill="#eac6b6"/>
<ellipse cx="483.30" cy="78.60" rx="1.45" ry="1.05" fill="#c80f2e"/>
<rect x="478.00" y="56.50" width="10.60" height="2.6" rx="0.9" fill="#d3d5da"/>
<rect x="478.60" y="57.90" width="9.40" height="0.8" fill="#aab0bd"/>
<polygon points="490.30,58.90 498.60,58.90 498.00,61.90 495.95,78.80 494.45,79.80 492.95,78.80 490.90,61.90" fill="#cfd0d5"/>
<polygon points="492.65,59.40 495.65,59.40 494.75,74.80 493.65,74.80" fill="#e8e9ec"/>
<polygon points="491.86,69.80 497.04,69.80 495.95,78.80 494.45,79.80 492.95,78.80" fill="#ecc29f"/>
<ellipse cx="494.45" cy="78.60" rx="1.45" ry="1.05" fill="#c80f2e"/>
<rect x="489.30" y="56.50" width="10.30" height="2.6" rx="0.9" fill="#d3d5da"/>
<rect x="489.90" y="57.90" width="9.10" height="0.8" fill="#aab0bd"/>
<polygon points="501.30,58.90 509.40,58.90 508.80,61.90 506.85,78.80 505.35,79.80 503.85,78.80 501.90,61.90" fill="#cfd0d5"/>
<polygon points="503.55,59.40 506.55,59.40 505.65,74.80 504.55,74.80" fill="#e8e9ec"/>
<polygon points="502.81,69.80 507.89,69.80 506.85,78.80 505.35,79.80 503.85,78.80" fill="#eec3a0"/>
<ellipse cx="505.35" cy="78.60" rx="1.45" ry="1.05" fill="#c80f2e"/>
<rect x="500.30" y="56.50" width="10.10" height="2.6" rx="0.9" fill="#d3d5da"/>
<rect x="500.90" y="57.90" width="8.90" height="0.8" fill="#aab0bd"/>
<text x="512.2" y="38.6" font-family="'Liberation Serif', 'Times New Roman', serif" font-size="7.1" font-weight="bold" text-anchor="start" fill="#111" stroke="#111" stroke-width="0.2" >Chi-AgNPs</text>
<text x="516.7" y="69.0" font-family="'Liberation Serif', 'Times New Roman', serif" font-size="7.1" font-weight="bold" text-anchor="start" fill="#111" stroke="#111" stroke-width="0.2" >AgNPs</text>
<text x="469.0" y="145.0" font-family="'Liberation Serif', 'Times New Roman', serif" font-size="4.6" font-weight="bold" text-anchor="middle" fill="#222" stroke="#222" stroke-width="0.12" >Chi-Ag NPs  (μg/mL)</text>
<line x1="371.5" y1="147.1" x2="549.5" y2="147.1" stroke="#555" stroke-width="0.8"/>
<text x="353.5" y="152.8" font-family="'Liberation Serif', 'Times New Roman', serif" font-size="4.8" font-weight="bold" text-anchor="middle" fill="#222" stroke="#222" stroke-width="0.12" >H<tspan font-size="2.8" dy="0.6">2</tspan><tspan dy="-0.6">O</tspan></text>
<text x="388.5" y="152.8" font-family="'Liberation Serif', 'Times New Roman', serif" font-size="4.8" font-weight="bold" text-anchor="middle" fill="#222" stroke="#222" stroke-width="0.12" >1</text>
<text x="424.0" y="152.8" font-family="'Liberation Serif', 'Times New Roman', serif" font-size="4.8" font-weight="bold" text-anchor="middle" fill="#222" stroke="#222" stroke-width="0.12" >2.5</text>
<text x="459.5" y="152.8" font-family="'Liberation Serif', 'Times New Roman', serif" font-size="4.8" font-weight="bold" text-anchor="middle" fill="#222" stroke="#222" stroke-width="0.12" >5</text>
<text x="494.0" y="152.8" font-family="'Liberation Serif', 'Times New Roman', serif" font-size="4.8" font-weight="bold" text-anchor="middle" fill="#222" stroke="#222" stroke-width="0.12" >7.5</text>
<text x="529.5" y="152.8" font-family="'Liberation Serif', 'Times New Roman', serif" font-size="4.8" font-weight="bold" text-anchor="middle" fill="#222" stroke="#222" stroke-width="0.12" >10</text>
<rect x="336.00" y="154.70" width="34.0" height="34.4" fill="#dadadc"/>
<g filter="url(#soft)">
</g>
<rect x="371.50" y="154.70" width="34.0" height="34.4" fill="#d0d2d9"/>
<g filter="url(#soft)">
<circle cx="383.2" cy="161.3" r="1.4" fill="#dbb7c6" opacity="0.42"/>
<circle cx="383.5" cy="161.6" r="0.7" fill="#e3e4ea" opacity="0.6"/>
<circle cx="375.7" cy="173.0" r="1.4" fill="#dbb7c6" opacity="0.42"/>
<circle cx="376.0" cy="173.3" r="0.7" fill="#e3e4ea" opacity="0.6"/>
<circle cx="375.2" cy="172.1" r="1.4" fill="#dbb7c6" opacity="0.42"/>
<circle cx="375.5" cy="172.4" r="0.7" fill="#e3e4ea" opacity="0.6"/>
<circle cx="386.5" cy="158.8" r="1.4" fill="#dbb7c6" opacity="0.42"/>
<circle cx="386.8" cy="159.1" r="0.7" fill="#e3e4ea" opacity="0.6"/>
<circle cx="386.2" cy="181.8" r="1.4" fill="#dbb7c6" opacity="0.42"/>
<circle cx="386.5" cy="182.1" r="0.7" fill="#e3e4ea" opacity="0.6"/>
<circle cx="380.2" cy="175.8" r="1.4" fill="#b8bcd8" opacity="0.42"/>
<circle cx="380.5" cy="176.1" r="0.7" fill="#e3e4ea" opacity="0.6"/>
<circle cx="390.8" cy="168.8" r="1.4" fill="#b8bcd8" opacity="0.42"/>
<circle cx="391.1" cy="169.1" r="0.7" fill="#e3e4ea" opacity="0.6"/>
<circle cx="374.9" cy="182.8" r="1.4" fill="#dbb7c6" opacity="0.42"/>
<circle cx="375.2" cy="183.1" r="0.7" fill="#e3e4ea" opacity="0.6"/>
<circle cx="377.8" cy="160.3" r="1.4" fill="#dbb7c6" opacity="0.42"/>
<circle cx="378.1" cy="160.6" r="0.7" fill="#e3e4ea" opacity="0.6"/>
<circle cx="398.0" cy="162.2" r="1.4" fill="#dbb7c6" opacity="0.42"/>
<circle cx="398.3" cy="162.5" r="0.7" fill="#e3e4ea" opacity="0.6"/>
<circle cx="392.7" cy="168.0" r="1.4" fill="#dbb7c6" opacity="0.42"/>
<circle cx="393.0" cy="168.3" r="0.7" fill="#e3e4ea" opacity="0.6"/>
<circle cx="375.4" cy="158.5" r="1.4" fill="#dbb7c6" opacity="0.42"/>
<circle cx="375.7" cy="158.8" r="0.7" fill="#e3e4ea" opacity="0.6"/>
<circle cx="393.9" cy="169.7" r="1.4" fill="#dbb7c6" opacity="0.42"/>
<circle cx="394.2" cy="170.0" r="0.7" fill="#e3e4ea" opacity="0.6"/>
<circle cx="391.1" cy="170.5" r="1.4" fill="#dbb7c6" opacity="0.42"/>
<circle cx="391.4" cy="170.8" r="0.7" fill="#e3e4ea" opacity="0.6"/>
<circle cx="397.3" cy="177.9" r="1.4" fill="#dbb7c6" opacity="0.42"/>
<circle cx="397.6" cy="178.2" r="0.7" fill="#e3e4ea" opacity="0.6"/>
<circle cx="390.7" cy="172.7" r="1.4" fill="#b8bcd8" opacity="0.42"/>
<circle cx="391.0" cy="173.0" r="0.7" fill="#e3e4ea" opacity="0.6"/>
<circle cx="395.4" cy="165.5" r="1.4" fill="#b8bcd8" opacity="0.42"/>
<circle cx="395.7" cy="165.8" r="0.7" fill="#e3e4ea" opacity="0.6"/>
<circle cx="377.0" cy="169.4" r="1.4" fill="#b8bcd8" opacity="0.42"/>
<circle cx="377.3" cy="169.7" r="0.7" fill="#e3e4ea" opacity="0.6"/>
<circle cx="378.1" cy="171.6" r="1.4" fill="#dbb7c6" opacity="0.42"/>
<circle cx="378.4" cy="171.9" r="0.7" fill="#e3e4ea" opacity="0.6"/>
<circle cx="393.5" cy="179.9" r="1.4" fill="#dbb7c6" opacity="0.42"/>
<circle cx="393.8" cy="180.2" r="0.7" fill="#e3e4ea" opacity="0.6"/>
<circle cx="399.8" cy="166.2" r="1.4" fill="#dbb7c6" opacity="0.42"/>
<circle cx="400.1" cy="166.5" r="0.7" fill="#e3e4ea" opacity="0.6"/>
<circle cx="391.3" cy="174.3" r="1.4" fill="#dbb7c6" opacity="0.42"/>
<circle cx="391.6" cy="174.6" r="0.7" fill="#e3e4ea" opacity="0.6"/>
<circle cx="398.7" cy="185.4" r="1.4" fill="#dbb7c6" opacity="0.42"/>
<circle cx="399.0" cy="185.7" r="0.7" fill="#e3e4ea" opacity="0.6"/>
<circle cx="393.4" cy="158.5" r="1.4" fill="#b8bcd8" opacity="0.42"/>
<circle cx="393.7" cy="158.8" r="0.7" fill="#e3e4ea" opacity="0.6"/>
<circle cx="392.9" cy="186.9" r="1.4" fill="#b8bcd8" opacity="0.42"/>
<circle cx="393.2" cy="187.2" r="0.7" fill="#e3e4ea" opacity="0.6"/>
<circle cx="382.0" cy="168.4" r="1.4" fill="#dbb7c6" opacity="0.42"/>
<circle cx="382.3" cy="168.7" r="0.7" fill="#e3e4ea" opacity="0.6"/>
<circle cx="374.2" cy="170.7" r="1.4" fill="#dbb7c6" opacity="0.42"/>
<circle cx="374.5" cy="171.0" r="0.7" fill="#e3e4ea" opacity="0.6"/>
<circle cx="377.0" cy="158.5" r="1.4" fill="#b8bcd8" opacity="0.42"/>
<circle cx="377.3" cy="158.8" r="0.7" fill="#e3e4ea" opacity="0.6"/>
<circle cx="377.4" cy="164.2" r="1.4" fill="#dbb7c6" opacity="0.42"/>
<circle cx="377.7" cy="164.5" r="0.7" fill="#e3e4ea" opacity="0.6"/>
<circle cx="399.6" cy="159.1" r="1.4" fill="#dbb7c6" opacity="0.42"/>
<circle cx="399.9" cy="159.4" r="0.7" fill="#e3e4ea" opacity="0.6"/>
<circle cx="390.0" cy="183.6" r="1.4" fill="#b8bcd8" opacity="0.42"/>
<circle cx="390.3" cy="183.9" r="0.7" fill="#e3e4ea" opacity="0.6"/>
<circle cx="399.4" cy="165.2" r="1.4" fill="#dbb7c6" opacity="0.42"/>
<circle cx="399.7" cy="165.5" r="0.7" fill="#e3e4ea" opacity="0.6"/>
<circle cx="384.3" cy="183.6" r="1.4" fill="#b8bcd8" opacity="0.42"/>
<circle cx="384.6" cy="183.9" r="0.7" fill="#e3e4ea" opacity="0.6"/>
<circle cx="378.0" cy="162.1" r="1.4" fill="#dbb7c6" opacity="0.42"/>
<circle cx="378.3" cy="162.4" r="0.7" fill="#e3e4ea" opacity="0.6"/>
<circle cx="380.5" cy="171.4" r="1.4" fill="#dbb7c6" opacity="0.42"/>
<circle cx="380.8" cy="171.7" r="0.7" fill="#e3e4ea" opacity="0.6"/>
<circle cx="381.4" cy="156.8" r="1.4" fill="#dbb7c6" opacity="0.42"/>
<circle cx="381.7" cy="157.1" r="0.7" fill="#e3e4ea" opacity="0.6"/>
<circle cx="384.6" cy="173.9" r="1.4" fill="#b8bcd8" opacity="0.42"/>
<circle cx="384.9" cy="174.2" r="0.7" fill="#e3e4ea" opacity="0.6"/>
<circle cx="394.2" cy="172.4" r="1.4" fill="#dbb7c6" opacity="0.42"/>
<circle cx="394.5" cy="172.7" r="0.7" fill="#e3e4ea" opacity="0.6"/>
<circle cx="393.8" cy="158.3" r="1.4" fill="#b8bcd8" opacity="0.42"/>
<circle cx="394.1" cy="158.6" r="0.7" fill="#e3e4ea" opacity="0.6"/>
<circle cx="396.9" cy="183.3" r="1.4" fill="#b8bcd8" opacity="0.42"/>
<circle cx="397.2" cy="183.6" r="0.7" fill="#e3e4ea" opacity="0.6"/>
<circle cx="385.3" cy="168.8" r="1.4" fill="#dbb7c6" opacity="0.42"/>
<circle cx="385.6" cy="169.1" r="0.7" fill="#e3e4ea" opacity="0.6"/>
<circle cx="392.5" cy="158.6" r="1.4" fill="#dbb7c6" opacity="0.42"/>
<circle cx="392.8" cy="158.9" r="0.7" fill="#e3e4ea" opacity="0.6"/>
<circle cx="379.8" cy="161.6" r="1.4" fill="#dbb7c6" opacity="0.42"/>
<circle cx="380.1" cy="161.9" r="0.7" fill="#e3e4ea" opacity="0.6"/>
<circle cx="375.1" cy="156.7" r="1.4" fill="#dbb7c6" opacity="0.42"/>
<circle cx="375.4" cy="157.0" r="0.7" fill="#e3e4ea" opacity="0.6"/>
<circle cx="376.5" cy="167.8" r="1.4" fill="#dbb7c6" opacity="0.42"/>
<circle cx="376.8" cy="168.1" r="0.7" fill="#e3e4ea" opacity="0.6"/>
<circle cx="399.7" cy="175.4" r="1.4" fill="#dbb7c6" opacity="0.42"/>
<circle cx="400.0" cy="175.7" r="0.7" fill="#e3e4ea" opacity="0.6"/>
</g>
<rect x="406.80" y="154.70" width="34.0" height="34.4" fill="#d0d3da"/>
<g filter="url(#soft)">
<circle cx="416.4" cy="167.3" r="1.4" fill="#dbb7c6" opacity="0.42"/>
<circle cx="416.7" cy="167.6" r="0.7" fill="#e3e4ea" opacity="0.6"/>
<circle cx="412.5" cy="182.5" r="1.4" fill="#b8bcd8" opacity="0.42"/>
<circle cx="412.8" cy="182.8" r="0.7" fill="#e3e4ea" opacity="0.6"/>
<circle cx="422.8" cy="171.4" r="1.4" fill="#dbb7c6" opacity="0.42"/>
<circle cx="423.1" cy="171.7" r="0.7" fill="#e3e4ea" opacity="0.6"/>
<circle cx="411.9" cy="167.1" r="1.4" fill="#dbb7c6" opacity="0.42"/>
<circle cx="412.2" cy="167.4" r="0.7" fill="#e3e4ea" opacity="0.6"/>
<circle cx="433.7" cy="161.6" r="1.4" fill="#dbb7c6" opacity="0.42"/>
<circle cx="434.0" cy="161.9" r="0.7" fill="#e3e4ea" opacity="0.6"/>
<circle cx="437.3" cy="172.8" r="1.4" fill="#dbb7c6" opacity="0.42"/>
<circle cx="437.6" cy="173.1" r="0.7" fill="#e3e4ea" opacity="0.6"/>
<circle cx="425.1" cy="157.5" r="1.4" fill="#dbb7c6" opacity="0.42"/>
<circle cx="425.4" cy="157.8" r="0.7" fill="#e3e4ea" opacity="0.6"/>
<circle cx="438.2" cy="182.9" r="1.4" fill="#dbb7c6" opacity="0.42"/>
<circle cx="438.5" cy="183.2" r="0.7" fill="#e3e4ea" opacity="0.6"/>
<circle cx="416.6" cy="167.8" r="1.4" fill="#dbb7c6" opacity="0.42"/>
<circle cx="416.9" cy="168.1" r="0.7" fill="#e3e4ea" opacity="0.6"/>
<circle cx="432.0" cy="172.9" r="1.4" fill="#b8bcd8" opacity="0.42"/>
<circle cx="432.3" cy="173.2" r="0.7" fill="#e3e4ea" opacity="0.6"/>
<circle cx="418.7" cy="163.5" r="1.4" fill="#b8bcd8" opacity="0.42"/>
<circle cx="419.0" cy="163.8" r="0.7" fill="#e3e4ea" opacity="0.6"/>
<circle cx="438.3" cy="182.6" r="1.4" fill="#b8bcd8" opacity="0.42"/>
<circle cx="438.6" cy="182.9" r="0.7" fill="#e3e4ea" opacity="0.6"/>
<circle cx="433.3" cy="179.2" r="1.4" fill="#dbb7c6" opacity="0.42"/>
<circle cx="433.6" cy="179.5" r="0.7" fill="#e3e4ea" opacity="0.6"/>
<circle cx="424.3" cy="167.5" r="1.4" fill="#dbb7c6" opacity="0.42"/>
<circle cx="424.6" cy="167.8" r="0.7" fill="#e3e4ea" opacity="0.6"/>
<circle cx="409.6" cy="165.2" r="1.4" fill="#dbb7c6" opacity="0.42"/>
<circle cx="409.9" cy="165.5" r="0.7" fill="#e3e4ea" opacity="0.6"/>
<circle cx="429.6" cy="185.8" r="1.4" fill="#dbb7c6" opacity="0.42"/>
<circle cx="429.9" cy="186.1" r="0.7" fill="#e3e4ea" opacity="0.6"/>
<circle cx="436.9" cy="186.7" r="1.4" fill="#b8bcd8" opacity="0.42"/>
<circle cx="437.2" cy="187.0" r="0.7" fill="#e3e4ea" opacity="0.6"/>
<circle cx="419.7" cy="163.4" r="1.4" fill="#dbb7c6" opacity="0.42"/>
<circle cx="420.0" cy="163.7" r="0.7" fill="#e3e4ea" opacity="0.6"/>
<circle cx="414.7" cy="162.9" r="1.4" fill="#dbb7c6" opacity="0.42"/>
<circle cx="415.0" cy="163.2" r="0.7" fill="#e3e4ea" opacity="0.6"/>
<circle cx="435.8" cy="182.2" r="1.4" fill="#dbb7c6" opacity="0.42"/>
<circle cx="436.1" cy="182.5" r="0.7" fill="#e3e4ea" opacity="0.6"/>
<circle cx="428.4" cy="181.0" r="1.4" fill="#dbb7c6" opacity="0.42"/>
<circle cx="428.7" cy="181.3" r="0.7" fill="#e3e4ea" opacity="0.6"/>
<circle cx="428.6" cy="184.4" r="1.4" fill="#b8bcd8" opacity="0.42"/>
<circle cx="428.9" cy="184.7" r="0.7" fill="#e3e4ea" opacity="0.6"/>
<circle cx="431.3" cy="171.2" r="1.4" fill="#dbb7c6" opacity="0.42"/>
<circle cx="431.6" cy="171.5" r="0.7" fill="#e3e4ea" opacity="0.6"/>
<circle cx="432.5" cy="166.8" r="1.4" fill="#b8bcd8" opacity="0.42"/>
<circle cx="432.8" cy="167.1" r="0.7" fill="#e3e4ea" opacity="0.6"/>
<circle cx="437.9" cy="168.7" r="1.4" fill="#dbb7c6" opacity="0.42"/>
<circle cx="438.2" cy="169.0" r="0.7" fill="#e3e4ea" opacity="0.6"/>
<circle cx="437.2" cy="178.7" r="1.4" fill="#dbb7c6" opacity="0.42"/>
<circle cx="437.5" cy="179.0" r="0.7" fill="#e3e4ea" opacity="0.6"/>
<circle cx="412.6" cy="161.3" r="1.4" fill="#b8bcd8" opacity="0.42"/>
<circle cx="412.9" cy="161.6" r="0.7" fill="#e3e4ea" opacity="0.6"/>
<circle cx="433.0" cy="161.1" r="1.4" fill="#b8bcd8" opacity="0.42"/>
<circle cx="433.3" cy="161.4" r="0.7" fill="#e3e4ea" opacity="0.6"/>
<circle cx="438.2" cy="176.7" r="1.4" fill="#dbb7c6" opacity="0.42"/>
<circle cx="438.5" cy="177.0" r="0.7" fill="#e3e4ea" opacity="0.6"/>
<circle cx="425.3" cy="160.7" r="1.4" fill="#dbb7c6" opacity="0.42"/>
<circle cx="425.6" cy="161.0" r="0.7" fill="#e3e4ea" opacity="0.6"/>
<circle cx="437.9" cy="176.5" r="1.4" fill="#dbb7c6" opacity="0.42"/>
<circle cx="438.2" cy="176.8" r="0.7" fill="#e3e4ea" opacity="0.6"/>
<circle cx="436.8" cy="169.9" r="1.4" fill="#b8bcd8" opacity="0.42"/>
<circle cx="437.1" cy="170.2" r="0.7" fill="#e3e4ea" opacity="0.6"/>
<circle cx="433.6" cy="163.1" r="1.4" fill="#dbb7c6" opacity="0.42"/>
<circle cx="433.9" cy="163.4" r="0.7" fill="#e3e4ea" opacity="0.6"/>
<circle cx="417.6" cy="164.0" r="1.4" fill="#dbb7c6" opacity="0.42"/>
<circle cx="417.9" cy="164.3" r="0.7" fill="#e3e4ea" opacity="0.6"/>
<circle cx="416.6" cy="169.4" r="1.4" fill="#dbb7c6" opacity="0.42"/>
<circle cx="416.9" cy="169.7" r="0.7" fill="#e3e4ea" opacity="0.6"/>
<circle cx="436.1" cy="167.5" r="1.4" fill="#dbb7c6" opacity="0.42"/>
<circle cx="436.4" cy="167.8" r="0.7" fill="#e3e4ea" opacity="0.6"/>
<circle cx="426.3" cy="184.2" r="1.4" fill="#dbb7c6" opacity="0.42"/>
<circle cx="426.6" cy="184.5" r="0.7" fill="#e3e4ea" opacity="0.6"/>
<circle cx="436.3" cy="172.0" r="1.4" fill="#dbb7c6" opacity="0.42"/>
<circle cx="436.6" cy="172.3" r="0.7" fill="#e3e4ea" opacity="0.6"/>
<circle cx="424.5" cy="157.3" r="1.4" fill="#dbb7c6" opacity="0.42"/>
<circle cx="424.8" cy="157.6" r="0.7" fill="#e3e4ea" opacity="0.6"/>
<circle cx="414.3" cy="156.8" r="1.4" fill="#b8bcd8" opacity="0.42"/>
<circle cx="414.6" cy="157.1" r="0.7" fill="#e3e4ea" opacity="0.6"/>
<circle cx="414.0" cy="171.1" r="1.4" fill="#b8bcd8" opacity="0.42"/>
<circle cx="414.3" cy="171.4" r="0.7" fill="#e3e4ea" opacity="0.6"/>
<circle cx="425.5" cy="166.6" r="1.4" fill="#dbb7c6" opacity="0.42"/>
<circle cx="425.8" cy="166.9" r="0.7" fill="#e3e4ea" opacity="0.6"/>
<circle cx="425.5" cy="180.5" r="1.4" fill="#dbb7c6" opacity="0.42"/>
<circle cx="425.8" cy="180.8" r="0.7" fill="#e3e4ea" opacity="0.6"/>
<circle cx="425.6" cy="164.3" r="1.4" fill="#dbb7c6" opacity="0.42"/>
<circle cx="425.9" cy="164.6" r="0.7" fill="#e3e4ea" opacity="0.6"/>
<circle cx="432.0" cy="172.1" r="1.4" fill="#dbb7c6" opacity="0.42"/>
<circle cx="432.3" cy="172.4" r="0.7" fill="#e3e4ea" opacity="0.6"/>
<circle cx="431.6" cy="184.4" r="1.4" fill="#dbb7c6" opacity="0.42"/>
<circle cx="431.9" cy="184.7" r="0.7" fill="#e3e4ea" opacity="0.6"/>
<circle cx="427.2" cy="172.1" r="1.4" fill="#dbb7c6" opacity="0.42"/>
<circle cx="427.5" cy="172.4" r="0.7" fill="#e3e4ea" opacity="0.6"/>
<circle cx="429.6" cy="170.5" r="1.4" fill="#dbb7c6" opacity="0.42"/>
<circle cx="429.9" cy="170.8" r="0.7" fill="#e3e4ea" opacity="0.6"/>
<circle cx="423.1" cy="185.3" r="1.4" fill="#dbb7c6" opacity="0.42"/>
<circle cx="423.4" cy="185.6" r="0.7" fill="#e3e4ea" opacity="0.6"/>
</g>
<rect x="441.90" y="154.70" width="34.0" height="34.4" fill="#d3d4d9"/>
<g filter="url(#soft)">
<circle cx="470.2" cy="185.3" r="1.4" fill="#dbb7c6" opacity="0.42"/>
<circle cx="470.5" cy="185.6" r="0.7" fill="#e3e4ea" opacity="0.6"/>
<circle cx="460.7" cy="185.4" r="1.4" fill="#b8bcd8" opacity="0.42"/>
<circle cx="461.0" cy="185.7" r="0.7" fill="#e3e4ea" opacity="0.6"/>
<circle cx="448.0" cy="160.4" r="1.4" fill="#dbb7c6" opacity="0.42"/>
<circle cx="448.3" cy="160.7" r="0.7" fill="#e3e4ea" opacity="0.6"/>
<circle cx="446.1" cy="164.0" r="1.4" fill="#dbb7c6" opacity="0.42"/>
<circle cx="446.4" cy="164.3" r="0.7" fill="#e3e4ea" opacity="0.6"/>
<circle cx="464.0" cy="180.5" r="1.4" fill="#b8bcd8" opacity="0.42"/>
<circle cx="464.3" cy="180.8" r="0.7" fill="#e3e4ea" opacity="0.6"/>
<circle cx="448.5" cy="178.5" r="1.4" fill="#dbb7c6" opacity="0.42"/>
<circle cx="448.8" cy="178.8" r="0.7" fill="#e3e4ea" opacity="0.6"/>
<circle cx="448.2" cy="183.5" r="1.4" fill="#b8bcd8" opacity="0.42"/>
<circle cx="448.5" cy="183.8" r="0.7" fill="#e3e4ea" opacity="0.6"/>
<circle cx="450.5" cy="185.7" r="1.4" fill="#dbb7c6" opacity="0.42"/>
<circle cx="450.8" cy="186.0" r="0.7" fill="#e3e4ea" opacity="0.6"/>
<circle cx="458.5" cy="186.8" r="1.4" fill="#b8bcd8" opacity="0.42"/>
<circle cx="458.8" cy="187.1" r="0.7" fill="#e3e4ea" opacity="0.6"/>
<circle cx="448.7" cy="169.8" r="1.4" fill="#dbb7c6" opacity="0.42"/>
<circle cx="449.0" cy="170.1" r="0.7" fill="#e3e4ea" opacity="0.6"/>
<circle cx="454.1" cy="162.7" r="1.4" fill="#dbb7c6" opacity="0.42"/>
<circle cx="454.4" cy="163.0" r="0.7" fill="#e3e4ea" opacity="0.6"/>
<circle cx="465.6" cy="157.3" r="1.4" fill="#dbb7c6" opacity="0.42"/>
<circle cx="465.9" cy="157.6" r="0.7" fill="#e3e4ea" opacity="0.6"/>
<circle cx="457.1" cy="157.2" r="1.4" fill="#dbb7c6" opacity="0.42"/>
<circle cx="457.4" cy="157.5" r="0.7" fill="#e3e4ea" opacity="0.6"/>
<circle cx="462.6" cy="172.3" r="1.4" fill="#dbb7c6" opacity="0.42"/>
<circle cx="462.9" cy="172.6" r="0.7" fill="#e3e4ea" opacity="0.6"/>
<circle cx="473.5" cy="180.7" r="1.4" fill="#b8bcd8" opacity="0.42"/>
<circle cx="473.8" cy="181.0" r="0.7" fill="#e3e4ea" opacity="0.6"/>
<circle cx="447.0" cy="164.8" r="1.4" fill="#dbb7c6" opacity="0.42"/>
<circle cx="447.3" cy="165.1" r="0.7" fill="#e3e4ea" opacity="0.6"/>
<circle cx="467.3" cy="164.9" r="1.4" fill="#dbb7c6" opacity="0.42"/>
<circle cx="467.6" cy="165.2" r="0.7" fill="#e3e4ea" opacity="0.6"/>
<circle cx="456.6" cy="184.4" r="1.4" fill="#b8bcd8" opacity="0.42"/>
<circle cx="456.9" cy="184.7" r="0.7" fill="#e3e4ea" opacity="0.6"/>
<circle cx="451.7" cy="161.2" r="1.4" fill="#b8bcd8" opacity="0.42"/>
<circle cx="452.0" cy="161.5" r="0.7" fill="#e3e4ea" opacity="0.6"/>
<circle cx="461.0" cy="178.0" r="1.4" fill="#dbb7c6" opacity="0.42"/>
<circle cx="461.3" cy="178.3" r="0.7" fill="#e3e4ea" opacity="0.6"/>
<circle cx="445.6" cy="177.6" r="1.4" fill="#dbb7c6" opacity="0.42"/>
<circle cx="445.9" cy="177.9" r="0.7" fill="#e3e4ea" opacity="0.6"/>
<circle cx="446.1" cy="185.2" r="1.4" fill="#dbb7c6" opacity="0.42"/>
<circle cx="446.4" cy="185.5" r="0.7" fill="#e3e4ea" opacity="0.6"/>
<circle cx="467.9" cy="159.2" r="1.4" fill="#b8bcd8" opacity="0.42"/>
<circle cx="468.2" cy="159.5" r="0.7" fill="#e3e4ea" opacity="0.6"/>
<circle cx="445.9" cy="182.9" r="1.4" fill="#dbb7c6" opacity="0.42"/>
<circle cx="446.2" cy="183.2" r="0.7" fill="#e3e4ea" opacity="0.6"/>
<circle cx="454.1" cy="173.5" r="1.4" fill="#b8bcd8" opacity="0.42"/>
<circle cx="454.4" cy="173.8" r="0.7" fill="#e3e4ea" opacity="0.6"/>
<circle cx="451.9" cy="160.6" r="1.4" fill="#dbb7c6" opacity="0.42"/>
<circle cx="452.2" cy="160.9" r="0.7" fill="#e3e4ea" opacity="0.6"/>
<circle cx="451.1" cy="160.0" r="1.4" fill="#dbb7c6" opacity="0.42"/>
<circle cx="451.4" cy="160.3" r="0.7" fill="#e3e4ea" opacity="0.6"/>
<circle cx="445.4" cy="162.8" r="1.4" fill="#dbb7c6" opacity="0.42"/>
<circle cx="445.7" cy="163.1" r="0.7" fill="#e3e4ea" opacity="0.6"/>
<circle cx="453.1" cy="179.8" r="1.4" fill="#dbb7c6" opacity="0.42"/>
<circle cx="453.4" cy="180.1" r="0.7" fill="#e3e4ea" opacity="0.6"/>
<circle cx="458.9" cy="162.1" r="1.4" fill="#dbb7c6" opacity="0.42"/>
<circle cx="459.2" cy="162.4" r="0.7" fill="#e3e4ea" opacity="0.6"/>
<circle cx="444.4" cy="164.3" r="1.4" fill="#dbb7c6" opacity="0.42"/>
<circle cx="444.7" cy="164.6" r="0.7" fill="#e3e4ea" opacity="0.6"/>
<circle cx="465.9" cy="173.5" r="1.4" fill="#dbb7c6" opacity="0.42"/>
<circle cx="466.2" cy="173.8" r="0.7" fill="#e3e4ea" opacity="0.6"/>
<circle cx="458.1" cy="185.1" r="1.4" fill="#dbb7c6" opacity="0.42"/>
<circle cx="458.4" cy="185.4" r="0.7" fill="#e3e4ea" opacity="0.6"/>
<circle cx="468.5" cy="169.8" r="1.4" fill="#dbb7c6" opacity="0.42"/>
<circle cx="468.8" cy="170.1" r="0.7" fill="#e3e4ea" opacity="0.6"/>
<circle cx="468.9" cy="168.6" r="1.4" fill="#dbb7c6" opacity="0.42"/>
<circle cx="469.2" cy="168.9" r="0.7" fill="#e3e4ea" opacity="0.6"/>
<circle cx="464.5" cy="186.6" r="1.4" fill="#dbb7c6" opacity="0.42"/>
<circle cx="464.8" cy="186.9" r="0.7" fill="#e3e4ea" opacity="0.6"/>
</g>
<rect x="477.20" y="154.70" width="34.0" height="34.4" fill="#d0d2d8"/>
<g filter="url(#soft)">
<circle cx="504.2" cy="178.2" r="1.4" fill="#dbb7c6" opacity="0.42"/>
<circle cx="504.5" cy="178.5" r="0.7" fill="#e3e4ea" opacity="0.6"/>
<circle cx="491.3" cy="167.3" r="1.4" fill="#dbb7c6" opacity="0.42"/>
<circle cx="491.6" cy="167.6" r="0.7" fill="#e3e4ea" opacity="0.6"/>
<circle cx="483.1" cy="158.8" r="1.4" fill="#b8bcd8" opacity="0.42"/>
<circle cx="483.4" cy="159.1" r="0.7" fill="#e3e4ea" opacity="0.6"/>
<circle cx="486.9" cy="161.7" r="1.4" fill="#dbb7c6" opacity="0.42"/>
<circle cx="487.2" cy="162.0" r="0.7" fill="#e3e4ea" opacity="0.6"/>
<circle cx="504.4" cy="183.2" r="1.4" fill="#dbb7c6" opacity="0.42"/>
<circle cx="504.7" cy="183.5" r="0.7" fill="#e3e4ea" opacity="0.6"/>
<circle cx="487.7" cy="164.1" r="1.4" fill="#dbb7c6" opacity="0.42"/>
<circle cx="488.0" cy="164.4" r="0.7" fill="#e3e4ea" opacity="0.6"/>
<circle cx="493.0" cy="161.5" r="1.4" fill="#dbb7c6" opacity="0.42"/>
<circle cx="493.3" cy="161.8" r="0.7" fill="#e3e4ea" opacity="0.6"/>
<circle cx="487.1" cy="185.9" r="1.4" fill="#b8bcd8" opacity="0.42"/>
<circle cx="487.4" cy="186.2" r="0.7" fill="#e3e4ea" opacity="0.6"/>
<circle cx="495.6" cy="164.1" r="1.4" fill="#b8bcd8" opacity="0.42"/>
<circle cx="495.9" cy="164.4" r="0.7" fill="#e3e4ea" opacity="0.6"/>
<circle cx="488.5" cy="167.5" r="1.4" fill="#dbb7c6" opacity="0.42"/>
<circle cx="488.8" cy="167.8" r="0.7" fill="#e3e4ea" opacity="0.6"/>
<circle cx="490.6" cy="171.1" r="1.4" fill="#dbb7c6" opacity="0.42"/>
<circle cx="490.9" cy="171.4" r="0.7" fill="#e3e4ea" opacity="0.6"/>
<circle cx="485.2" cy="172.0" r="1.4" fill="#dbb7c6" opacity="0.42"/>
<circle cx="485.5" cy="172.3" r="0.7" fill="#e3e4ea" opacity="0.6"/>
<circle cx="487.1" cy="159.4" r="1.4" fill="#dbb7c6" opacity="0.42"/>
<circle cx="487.4" cy="159.7" r="0.7" fill="#e3e4ea" opacity="0.6"/>
<circle cx="480.5" cy="157.4" r="1.4" fill="#dbb7c6" opacity="0.42"/>
<circle cx="480.8" cy="157.7" r="0.7" fill="#e3e4ea" opacity="0.6"/>
<circle cx="486.2" cy="174.5" r="1.4" fill="#dbb7c6" opacity="0.42"/>
<circle cx="486.5" cy="174.8" r="0.7" fill="#e3e4ea" opacity="0.6"/>
<circle cx="501.7" cy="176.7" r="1.4" fill="#b8bcd8" opacity="0.42"/>
<circle cx="502.0" cy="177.0" r="0.7" fill="#e3e4ea" opacity="0.6"/>
<circle cx="505.6" cy="168.5" r="1.4" fill="#dbb7c6" opacity="0.42"/>
<circle cx="505.9" cy="168.8" r="0.7" fill="#e3e4ea" opacity="0.6"/>
<circle cx="508.7" cy="161.2" r="1.4" fill="#b8bcd8" opacity="0.42"/>
<circle cx="509.0" cy="161.5" r="0.7" fill="#e3e4ea" opacity="0.6"/>
<circle cx="498.5" cy="158.0" r="1.4" fill="#b8bcd8" opacity="0.42"/>
<circle cx="498.8" cy="158.3" r="0.7" fill="#e3e4ea" opacity="0.6"/>
<circle cx="506.0" cy="175.8" r="1.4" fill="#b8bcd8" opacity="0.42"/>
<circle cx="506.3" cy="176.1" r="0.7" fill="#e3e4ea" opacity="0.6"/>
<circle cx="503.6" cy="160.9" r="1.4" fill="#dbb7c6" opacity="0.42"/>
<circle cx="503.9" cy="161.2" r="0.7" fill="#e3e4ea" opacity="0.6"/>
<circle cx="494.3" cy="182.1" r="1.4" fill="#b8bcd8" opacity="0.42"/>
<circle cx="494.6" cy="182.4" r="0.7" fill="#e3e4ea" opacity="0.6"/>
<circle cx="504.0" cy="174.5" r="1.4" fill="#b8bcd8" opacity="0.42"/>
<circle cx="504.3" cy="174.8" r="0.7" fill="#e3e4ea" opacity="0.6"/>
<circle cx="499.7" cy="177.8" r="1.4" fill="#dbb7c6" opacity="0.42"/>
<circle cx="500.0" cy="178.1" r="0.7" fill="#e3e4ea" opacity="0.6"/>
<circle cx="480.1" cy="160.7" r="1.4" fill="#dbb7c6" opacity="0.42"/>
<circle cx="480.4" cy="161.0" r="0.7" fill="#e3e4ea" opacity="0.6"/>
<circle cx="482.3" cy="182.1" r="1.4" fill="#dbb7c6" opacity="0.42"/>
<circle cx="482.6" cy="182.4" r="0.7" fill="#e3e4ea" opacity="0.6"/>
<circle cx="498.0" cy="175.7" r="1.4" fill="#dbb7c6" opacity="0.42"/>
<circle cx="498.3" cy="176.0" r="0.7" fill="#e3e4ea" opacity="0.6"/>
<circle cx="493.9" cy="156.8" r="1.4" fill="#b8bcd8" opacity="0.42"/>
<circle cx="494.2" cy="157.1" r="0.7" fill="#e3e4ea" opacity="0.6"/>
<circle cx="501.6" cy="172.0" r="1.4" fill="#dbb7c6" opacity="0.42"/>
<circle cx="501.9" cy="172.3" r="0.7" fill="#e3e4ea" opacity="0.6"/>
<circle cx="499.0" cy="158.7" r="1.4" fill="#b8bcd8" opacity="0.42"/>
<circle cx="499.3" cy="159.0" r="0.7" fill="#e3e4ea" opacity="0.6"/>
<circle cx="486.8" cy="159.0" r="1.4" fill="#dbb7c6" opacity="0.42"/>
<circle cx="487.1" cy="159.3" r="0.7" fill="#e3e4ea" opacity="0.6"/>
<circle cx="501.1" cy="162.9" r="1.4" fill="#b8bcd8" opacity="0.42"/>
<circle cx="501.4" cy="163.2" r="0.7" fill="#e3e4ea" opacity="0.6"/>
<circle cx="508.5" cy="171.7" r="1.4" fill="#dbb7c6" opacity="0.42"/>
<circle cx="508.8" cy="172.0" r="0.7" fill="#e3e4ea" opacity="0.6"/>
<circle cx="493.6" cy="177.5" r="1.4" fill="#b8bcd8" opacity="0.42"/>
<circle cx="493.9" cy="177.8" r="0.7" fill="#e3e4ea" opacity="0.6"/>
<circle cx="497.7" cy="176.2" r="1.4" fill="#dbb7c6" opacity="0.42"/>
<circle cx="498.0" cy="176.5" r="0.7" fill="#e3e4ea" opacity="0.6"/>
<circle cx="483.6" cy="164.4" r="1.4" fill="#b8bcd8" opacity="0.42"/>
<circle cx="483.9" cy="164.7" r="0.7" fill="#e3e4ea" opacity="0.6"/>
<circle cx="488.3" cy="174.0" r="1.4" fill="#dbb7c6" opacity="0.42"/>
<circle cx="488.6" cy="174.3" r="0.7" fill="#e3e4ea" opacity="0.6"/>
<circle cx="481.0" cy="164.9" r="1.4" fill="#dbb7c6" opacity="0.42"/>
<circle cx="481.3" cy="165.2" r="0.7" fill="#e3e4ea" opacity="0.6"/>
<circle cx="500.0" cy="177.2" r="1.4" fill="#dbb7c6" opacity="0.42"/>
<circle cx="500.3" cy="177.5" r="0.7" fill="#e3e4ea" opacity="0.6"/>
</g>
<rect x="512.40" y="154.70" width="34.0" height="34.4" fill="#d0d2d8"/>
<g filter="url(#soft)">
<circle cx="529.9" cy="170.8" r="1.4" fill="#dbb7c6" opacity="0.42"/>
<circle cx="530.2" cy="171.1" r="0.7" fill="#e3e4ea" opacity="0.6"/>
<circle cx="518.0" cy="183.9" r="1.4" fill="#dbb7c6" opacity="0.42"/>
<circle cx="518.3" cy="184.2" r="0.7" fill="#e3e4ea" opacity="0.6"/>
<circle cx="543.7" cy="185.2" r="1.4" fill="#dbb7c6" opacity="0.42"/>
<circle cx="544.0" cy="185.5" r="0.7" fill="#e3e4ea" opacity="0.6"/>
<circle cx="528.2" cy="181.6" r="1.4" fill="#b8bcd8" opacity="0.42"/>
<circle cx="528.5" cy="181.9" r="0.7" fill="#e3e4ea" opacity="0.6"/>
<circle cx="527.9" cy="164.9" r="1.4" fill="#dbb7c6" opacity="0.42"/>
<circle cx="528.2" cy="165.2" r="0.7" fill="#e3e4ea" opacity="0.6"/>
<circle cx="542.8" cy="163.1" r="1.4" fill="#dbb7c6" opacity="0.42"/>
<circle cx="543.1" cy="163.4" r="0.7" fill="#e3e4ea" opacity="0.6"/>
<circle cx="518.7" cy="172.6" r="1.4" fill="#b8bcd8" opacity="0.42"/>
<circle cx="519.0" cy="172.9" r="0.7" fill="#e3e4ea" opacity="0.6"/>
<circle cx="518.4" cy="181.6" r="1.4" fill="#dbb7c6" opacity="0.42"/>
<circle cx="518.7" cy="181.9" r="0.7" fill="#e3e4ea" opacity="0.6"/>
<circle cx="541.0" cy="178.1" r="1.4" fill="#dbb7c6" opacity="0.42"/>
<circle cx="541.3" cy="178.4" r="0.7" fill="#e3e4ea" opacity="0.6"/>
<circle cx="541.3" cy="171.5" r="1.4" fill="#dbb7c6" opacity="0.42"/>
<circle cx="541.6" cy="171.8" r="0.7" fill="#e3e4ea" opacity="0.6"/>
<circle cx="514.5" cy="171.6" r="1.4" fill="#dbb7c6" opacity="0.42"/>
<circle cx="514.8" cy="171.9" r="0.7" fill="#e3e4ea" opacity="0.6"/>
<circle cx="523.5" cy="161.0" r="1.4" fill="#dbb7c6" opacity="0.42"/>
<circle cx="523.8" cy="161.3" r="0.7" fill="#e3e4ea" opacity="0.6"/>
<circle cx="523.9" cy="182.2" r="1.4" fill="#dbb7c6" opacity="0.42"/>
<circle cx="524.2" cy="182.5" r="0.7" fill="#e3e4ea" opacity="0.6"/>
<circle cx="536.9" cy="182.2" r="1.4" fill="#dbb7c6" opacity="0.42"/>
<circle cx="537.2" cy="182.5" r="0.7" fill="#e3e4ea" opacity="0.6"/>
<circle cx="542.2" cy="178.4" r="1.4" fill="#b8bcd8" opacity="0.42"/>
<circle cx="542.5" cy="178.7" r="0.7" fill="#e3e4ea" opacity="0.6"/>
<circle cx="523.1" cy="168.0" r="1.4" fill="#dbb7c6" opacity="0.42"/>
<circle cx="523.4" cy="168.3" r="0.7" fill="#e3e4ea" opacity="0.6"/>
<circle cx="544.4" cy="174.6" r="1.4" fill="#dbb7c6" opacity="0.42"/>
<circle cx="544.7" cy="174.9" r="0.7" fill="#e3e4ea" opacity="0.6"/>
<circle cx="527.2" cy="165.1" r="1.4" fill="#dbb7c6" opacity="0.42"/>
<circle cx="527.5" cy="165.4" r="0.7" fill="#e3e4ea" opacity="0.6"/>
<circle cx="517.5" cy="182.1" r="1.4" fill="#dbb7c6" opacity="0.42"/>
<circle cx="517.8" cy="182.4" r="0.7" fill="#e3e4ea" opacity="0.6"/>
<circle cx="542.5" cy="164.3" r="1.4" fill="#dbb7c6" opacity="0.42"/>
<circle cx="542.8" cy="164.6" r="0.7" fill="#e3e4ea" opacity="0.6"/>
<circle cx="529.7" cy="162.5" r="1.4" fill="#dbb7c6" opacity="0.42"/>
<circle cx="530.0" cy="162.8" r="0.7" fill="#e3e4ea" opacity="0.6"/>
<circle cx="543.1" cy="183.6" r="1.4" fill="#b8bcd8" opacity="0.42"/>
<circle cx="543.4" cy="183.9" r="0.7" fill="#e3e4ea" opacity="0.6"/>
<circle cx="533.3" cy="184.5" r="1.4" fill="#b8bcd8" opacity="0.42"/>
<circle cx="533.6" cy="184.8" r="0.7" fill="#e3e4ea" opacity="0.6"/>
<circle cx="530.9" cy="178.6" r="1.4" fill="#dbb7c6" opacity="0.42"/>
<circle cx="531.2" cy="178.9" r="0.7" fill="#e3e4ea" opacity="0.6"/>
<circle cx="536.4" cy="170.4" r="1.4" fill="#b8bcd8" opacity="0.42"/>
<circle cx="536.7" cy="170.7" r="0.7" fill="#e3e4ea" opacity="0.6"/>
<circle cx="533.7" cy="165.4" r="1.4" fill="#dbb7c6" opacity="0.42"/>
<circle cx="534.0" cy="165.7" r="0.7" fill="#e3e4ea" opacity="0.6"/>
<circle cx="542.2" cy="160.6" r="1.4" fill="#dbb7c6" opacity="0.42"/>
<circle cx="542.5" cy="160.9" r="0.7" fill="#e3e4ea" opacity="0.6"/>
<circle cx="524.7" cy="165.8" r="1.4" fill="#b8bcd8" opacity="0.42"/>
<circle cx="525.0" cy="166.1" r="0.7" fill="#e3e4ea" opacity="0.6"/>
<circle cx="543.7" cy="164.6" r="1.4" fill="#dbb7c6" opacity="0.42"/>
<circle cx="544.0" cy="164.9" r="0.7" fill="#e3e4ea" opacity="0.6"/>
<circle cx="523.4" cy="173.6" r="1.4" fill="#dbb7c6" opacity="0.42"/>
<circle cx="523.7" cy="173.9" r="0.7" fill="#e3e4ea" opacity="0.6"/>
<circle cx="519.4" cy="161.6" r="1.4" fill="#dbb7c6" opacity="0.42"/>
<circle cx="519.7" cy="161.9" r="0.7" fill="#e3e4ea" opacity="0.6"/>
<circle cx="541.6" cy="171.8" r="1.4" fill="#dbb7c6" opacity="0.42"/>
<circle cx="541.9" cy="172.1" r="0.7" fill="#e3e4ea" opacity="0.6"/>
<circle cx="541.6" cy="187.0" r="1.4" fill="#dbb7c6" opacity="0.42"/>
<circle cx="541.9" cy="187.3" r="0.7" fill="#e3e4ea" opacity="0.6"/>
<circle cx="518.6" cy="162.5" r="1.4" fill="#dbb7c6" opacity="0.42"/>
<circle cx="518.9" cy="162.8" r="0.7" fill="#e3e4ea" opacity="0.6"/>
<circle cx="524.7" cy="159.5" r="1.4" fill="#dbb7c6" opacity="0.42"/>
<circle cx="525.0" cy="159.8" r="0.7" fill="#e3e4ea" opacity="0.6"/>
<circle cx="522.2" cy="174.0" r="1.4" fill="#b8bcd8" opacity="0.42"/>
<circle cx="522.5" cy="174.3" r="0.7" fill="#e3e4ea" opacity="0.6"/>
<circle cx="536.9" cy="169.2" r="1.4" fill="#dbb7c6" opacity="0.42"/>
<circle cx="537.2" cy="169.5" r="0.7" fill="#e3e4ea" opacity="0.6"/>
<circle cx="530.1" cy="168.2" r="1.4" fill="#dbb7c6" opacity="0.42"/>
<circle cx="530.4" cy="168.5" r="0.7" fill="#e3e4ea" opacity="0.6"/>
<circle cx="516.3" cy="165.1" r="1.4" fill="#b8bcd8" opacity="0.42"/>
<circle cx="516.6" cy="165.4" r="0.7" fill="#e3e4ea" opacity="0.6"/>
<circle cx="518.2" cy="172.0" r="1.4" fill="#dbb7c6" opacity="0.42"/>
<circle cx="518.5" cy="172.3" r="0.7" fill="#e3e4ea" opacity="0.6"/>
<circle cx="540.3" cy="163.3" r="1.4" fill="#dbb7c6" opacity="0.42"/>
<circle cx="540.6" cy="163.6" r="0.7" fill="#e3e4ea" opacity="0.6"/>
</g>
<circle cx="367.0" cy="163.2" r="1.5" fill="#b0607e" opacity="0.5" filter="url(#soft)"/>
<circle cx="368.3" cy="165.5" r="1.1" fill="#c07090" opacity="0.4" filter="url(#soft)"/>
<circle cx="362.3" cy="166.3" r="1.3" fill="#8c8cb4" opacity="0.35" filter="url(#soft)"/>
<circle cx="339.5" cy="168.5" r="1.5" fill="#c8a0b0" opacity="0.35" filter="url(#soft)"/>
<circle cx="352.5" cy="178.8" r="1.3" fill="#a8a4c4" opacity="0.3" filter="url(#soft)"/>
<text x="468.0" y="195.0" font-family="'Liberation Serif', 'Times New Roman', serif" font-size="4.6" font-weight="bold" text-anchor="middle" fill="#222" stroke="#222" stroke-width="0.12" >Ag NPs  (μg/mL)</text>
<line x1="371.9" y1="198.0" x2="549.5" y2="198.0" stroke="#555" stroke-width="0.8"/>
<text x="353.6" y="203.8" font-family="'Liberation Serif', 'Times New Roman', serif" font-size="4.8" font-weight="bold" text-anchor="middle" fill="#222" stroke="#222" stroke-width="0.12" >PBS</text>
<text x="388.5" y="203.8" font-family="'Liberation Serif', 'Times New Roman', serif" font-size="4.8" font-weight="bold" text-anchor="middle" fill="#222" stroke="#222" stroke-width="0.12" >1</text>
<text x="424.0" y="203.8" font-family="'Liberation Serif', 'Times New Roman', serif" font-size="4.8" font-weight="bold" text-anchor="middle" fill="#222" stroke="#222" stroke-width="0.12" >2.5</text>
<text x="459.0" y="203.8" font-family="'Liberation Serif', 'Times New Roman', serif" font-size="4.8" font-weight="bold" text-anchor="middle" fill="#222" stroke="#222" stroke-width="0.12" >5</text>
<text x="494.0" y="203.8" font-family="'Liberation Serif', 'Times New Roman', serif" font-size="4.8" font-weight="bold" text-anchor="middle" fill="#222" stroke="#222" stroke-width="0.12" >7.5</text>
<text x="529.5" y="203.8" font-family="'Liberation Serif', 'Times New Roman', serif" font-size="4.8" font-weight="bold" text-anchor="middle" fill="#222" stroke="#222" stroke-width="0.12" >10</text>
<rect x="336.00" y="206.40" width="34.0" height="34.2" fill="#d5d4d8"/>
<g filter="url(#soft)">
<circle cx="345.5" cy="220.5" r="1.4" fill="#dbb7c6" opacity="0.42"/>
<circle cx="345.8" cy="220.8" r="0.7" fill="#e3e4ea" opacity="0.6"/>
<circle cx="366.6" cy="234.0" r="1.4" fill="#b8bcd8" opacity="0.42"/>
<circle cx="366.9" cy="234.3" r="0.7" fill="#e3e4ea" opacity="0.6"/>
<circle cx="338.7" cy="209.4" r="1.4" fill="#b8bcd8" opacity="0.42"/>
<circle cx="339.0" cy="209.7" r="0.7" fill="#e3e4ea" opacity="0.6"/>
<circle cx="364.9" cy="222.7" r="1.4" fill="#dbb7c6" opacity="0.42"/>
<circle cx="365.2" cy="223.0" r="0.7" fill="#e3e4ea" opacity="0.6"/>
<circle cx="338.0" cy="220.2" r="1.4" fill="#b8bcd8" opacity="0.42"/>
<circle cx="338.3" cy="220.5" r="0.7" fill="#e3e4ea" opacity="0.6"/>
<circle cx="362.8" cy="234.2" r="1.4" fill="#b8bcd8" opacity="0.42"/>
<circle cx="363.1" cy="234.5" r="0.7" fill="#e3e4ea" opacity="0.6"/>
<circle cx="345.5" cy="211.7" r="1.4" fill="#dbb7c6" opacity="0.42"/>
<circle cx="345.8" cy="212.0" r="0.7" fill="#e3e4ea" opacity="0.6"/>
<circle cx="353.7" cy="229.0" r="1.4" fill="#b8bcd8" opacity="0.42"/>
<circle cx="354.0" cy="229.3" r="0.7" fill="#e3e4ea" opacity="0.6"/>
<circle cx="359.7" cy="227.9" r="1.4" fill="#b8bcd8" opacity="0.42"/>
<circle cx="360.0" cy="228.2" r="0.7" fill="#e3e4ea" opacity="0.6"/>
<circle cx="351.7" cy="225.1" r="1.4" fill="#dbb7c6" opacity="0.42"/>
<circle cx="352.0" cy="225.4" r="0.7" fill="#e3e4ea" opacity="0.6"/>
<circle cx="361.5" cy="215.4" r="1.4" fill="#b8bcd8" opacity="0.42"/>
<circle cx="361.8" cy="215.7" r="0.7" fill="#e3e4ea" opacity="0.6"/>
<circle cx="357.4" cy="217.6" r="1.4" fill="#dbb7c6" opacity="0.42"/>
<circle cx="357.7" cy="217.9" r="0.7" fill="#e3e4ea" opacity="0.6"/>
<circle cx="345.6" cy="227.6" r="1.4" fill="#dbb7c6" opacity="0.42"/>
<circle cx="345.9" cy="227.9" r="0.7" fill="#e3e4ea" opacity="0.6"/>
<circle cx="341.4" cy="210.5" r="1.4" fill="#dbb7c6" opacity="0.42"/>
<circle cx="341.7" cy="210.8" r="0.7" fill="#e3e4ea" opacity="0.6"/>
<circle cx="355.5" cy="220.1" r="1.4" fill="#dbb7c6" opacity="0.42"/>
<circle cx="355.8" cy="220.4" r="0.7" fill="#e3e4ea" opacity="0.6"/>
<circle cx="356.0" cy="208.7" r="1.4" fill="#dbb7c6" opacity="0.42"/>
<circle cx="356.3" cy="209.0" r="0.7" fill="#e3e4ea" opacity="0.6"/>
<circle cx="351.8" cy="237.4" r="1.4" fill="#dbb7c6" opacity="0.42"/>
<circle cx="352.1" cy="237.7" r="0.7" fill="#e3e4ea" opacity="0.6"/>
<circle cx="364.5" cy="222.8" r="1.4" fill="#dbb7c6" opacity="0.42"/>
<circle cx="364.8" cy="223.1" r="0.7" fill="#e3e4ea" opacity="0.6"/>
<circle cx="345.4" cy="237.4" r="1.4" fill="#b8bcd8" opacity="0.42"/>
<circle cx="345.7" cy="237.7" r="0.7" fill="#e3e4ea" opacity="0.6"/>
<circle cx="347.2" cy="209.1" r="1.4" fill="#dbb7c6" opacity="0.42"/>
<circle cx="347.5" cy="209.4" r="0.7" fill="#e3e4ea" opacity="0.6"/>
<circle cx="358.2" cy="221.1" r="1.4" fill="#dbb7c6" opacity="0.42"/>
<circle cx="358.5" cy="221.4" r="0.7" fill="#e3e4ea" opacity="0.6"/>
<circle cx="358.0" cy="236.3" r="1.4" fill="#dbb7c6" opacity="0.42"/>
<circle cx="358.3" cy="236.6" r="0.7" fill="#e3e4ea" opacity="0.6"/>
<circle cx="339.0" cy="218.6" r="1.4" fill="#dbb7c6" opacity="0.42"/>
<circle cx="339.3" cy="218.9" r="0.7" fill="#e3e4ea" opacity="0.6"/>
<circle cx="358.5" cy="214.4" r="1.4" fill="#b8bcd8" opacity="0.42"/>
<circle cx="358.8" cy="214.7" r="0.7" fill="#e3e4ea" opacity="0.6"/>
<circle cx="360.2" cy="223.6" r="1.4" fill="#dbb7c6" opacity="0.42"/>
<circle cx="360.5" cy="223.9" r="0.7" fill="#e3e4ea" opacity="0.6"/>
<circle cx="367.1" cy="217.8" r="1.4" fill="#b8bcd8" opacity="0.42"/>
<circle cx="367.4" cy="218.1" r="0.7" fill="#e3e4ea" opacity="0.6"/>
<circle cx="344.9" cy="215.1" r="1.4" fill="#b8bcd8" opacity="0.42"/>
<circle cx="345.2" cy="215.4" r="0.7" fill="#e3e4ea" opacity="0.6"/>
<circle cx="346.8" cy="237.1" r="1.4" fill="#dbb7c6" opacity="0.42"/>
<circle cx="347.1" cy="237.4" r="0.7" fill="#e3e4ea" opacity="0.6"/>
<circle cx="343.6" cy="215.1" r="1.4" fill="#dbb7c6" opacity="0.42"/>
<circle cx="343.9" cy="215.4" r="0.7" fill="#e3e4ea" opacity="0.6"/>
<circle cx="358.0" cy="237.1" r="1.4" fill="#dbb7c6" opacity="0.42"/>
<circle cx="358.3" cy="237.4" r="0.7" fill="#e3e4ea" opacity="0.6"/>
<circle cx="349.8" cy="214.8" r="1.4" fill="#b8bcd8" opacity="0.42"/>
<circle cx="350.1" cy="215.1" r="0.7" fill="#e3e4ea" opacity="0.6"/>
<circle cx="342.3" cy="210.0" r="1.4" fill="#dbb7c6" opacity="0.42"/>
<circle cx="342.6" cy="210.3" r="0.7" fill="#e3e4ea" opacity="0.6"/>
<circle cx="349.8" cy="235.5" r="1.4" fill="#b8bcd8" opacity="0.42"/>
<circle cx="350.1" cy="235.8" r="0.7" fill="#e3e4ea" opacity="0.6"/>
<circle cx="360.0" cy="238.5" r="1.4" fill="#b8bcd8" opacity="0.42"/>
<circle cx="360.3" cy="238.8" r="0.7" fill="#e3e4ea" opacity="0.6"/>
<circle cx="347.9" cy="214.0" r="1.4" fill="#b8bcd8" opacity="0.42"/>
<circle cx="348.2" cy="214.3" r="0.7" fill="#e3e4ea" opacity="0.6"/>
<circle cx="360.4" cy="209.4" r="1.4" fill="#dbb7c6" opacity="0.42"/>
<circle cx="360.7" cy="209.7" r="0.7" fill="#e3e4ea" opacity="0.6"/>
<circle cx="349.4" cy="219.7" r="1.4" fill="#dbb7c6" opacity="0.42"/>
<circle cx="349.7" cy="220.0" r="0.7" fill="#e3e4ea" opacity="0.6"/>
<circle cx="343.1" cy="208.5" r="1.4" fill="#dbb7c6" opacity="0.42"/>
<circle cx="343.4" cy="208.8" r="0.7" fill="#e3e4ea" opacity="0.6"/>
<circle cx="348.5" cy="237.3" r="1.4" fill="#dbb7c6" opacity="0.42"/>
<circle cx="348.8" cy="237.6" r="0.7" fill="#e3e4ea" opacity="0.6"/>
<circle cx="366.9" cy="214.7" r="1.4" fill="#dbb7c6" opacity="0.42"/>
<circle cx="367.2" cy="215.0" r="0.7" fill="#e3e4ea" opacity="0.6"/>
<circle cx="362.6" cy="233.2" r="1.4" fill="#dbb7c6" opacity="0.42"/>
<circle cx="362.9" cy="233.5" r="0.7" fill="#e3e4ea" opacity="0.6"/>
</g>
<rect x="371.50" y="206.40" width="34.0" height="34.2" fill="#d3d3d9"/>
<g filter="url(#soft)">
<circle cx="375.0" cy="222.7" r="1.4" fill="#dbb7c6" opacity="0.42"/>
<circle cx="375.3" cy="223.0" r="0.7" fill="#e3e4ea" opacity="0.6"/>
<circle cx="401.1" cy="214.2" r="1.4" fill="#dbb7c6" opacity="0.42"/>
<circle cx="401.4" cy="214.5" r="0.7" fill="#e3e4ea" opacity="0.6"/>
<circle cx="400.4" cy="209.3" r="1.4" fill="#dbb7c6" opacity="0.42"/>
<circle cx="400.7" cy="209.6" r="0.7" fill="#e3e4ea" opacity="0.6"/>
<circle cx="397.9" cy="231.6" r="1.4" fill="#dbb7c6" opacity="0.42"/>
<circle cx="398.2" cy="231.9" r="0.7" fill="#e3e4ea" opacity="0.6"/>
<circle cx="374.5" cy="210.3" r="1.4" fill="#b8bcd8" opacity="0.42"/>
<circle cx="374.8" cy="210.6" r="0.7" fill="#e3e4ea" opacity="0.6"/>
<circle cx="381.2" cy="231.0" r="1.4" fill="#b8bcd8" opacity="0.42"/>
<circle cx="381.5" cy="231.3" r="0.7" fill="#e3e4ea" opacity="0.6"/>
<circle cx="383.7" cy="216.6" r="1.4" fill="#b8bcd8" opacity="0.42"/>
<circle cx="384.0" cy="216.9" r="0.7" fill="#e3e4ea" opacity="0.6"/>
<circle cx="392.0" cy="216.3" r="1.4" fill="#b8bcd8" opacity="0.42"/>
<circle cx="392.3" cy="216.6" r="0.7" fill="#e3e4ea" opacity="0.6"/>
<circle cx="383.0" cy="216.7" r="1.4" fill="#dbb7c6" opacity="0.42"/>
<circle cx="383.3" cy="217.0" r="0.7" fill="#e3e4ea" opacity="0.6"/>
<circle cx="396.2" cy="236.1" r="1.4" fill="#dbb7c6" opacity="0.42"/>
<circle cx="396.5" cy="236.4" r="0.7" fill="#e3e4ea" opacity="0.6"/>
<circle cx="401.8" cy="209.1" r="1.4" fill="#dbb7c6" opacity="0.42"/>
<circle cx="402.1" cy="209.4" r="0.7" fill="#e3e4ea" opacity="0.6"/>
<circle cx="387.8" cy="237.3" r="1.4" fill="#b8bcd8" opacity="0.42"/>
<circle cx="388.1" cy="237.6" r="0.7" fill="#e3e4ea" opacity="0.6"/>
<circle cx="385.1" cy="216.0" r="1.4" fill="#dbb7c6" opacity="0.42"/>
<circle cx="385.4" cy="216.3" r="0.7" fill="#e3e4ea" opacity="0.6"/>
<circle cx="388.3" cy="236.4" r="1.4" fill="#dbb7c6" opacity="0.42"/>
<circle cx="388.6" cy="236.7" r="0.7" fill="#e3e4ea" opacity="0.6"/>
<circle cx="397.6" cy="230.7" r="1.4" fill="#b8bcd8" opacity="0.42"/>
<circle cx="397.9" cy="231.0" r="0.7" fill="#e3e4ea" opacity="0.6"/>
<circle cx="396.7" cy="226.7" r="1.4" fill="#dbb7c6" opacity="0.42"/>
<circle cx="397.0" cy="227.0" r="0.7" fill="#e3e4ea" opacity="0.6"/>
<circle cx="383.1" cy="219.3" r="1.4" fill="#b8bcd8" opacity="0.42"/>
<circle cx="383.4" cy="219.6" r="0.7" fill="#e3e4ea" opacity="0.6"/>
<circle cx="375.9" cy="214.4" r="1.4" fill="#b8bcd8" opacity="0.42"/>
<circle cx="376.2" cy="214.7" r="0.7" fill="#e3e4ea" opacity="0.6"/>
<circle cx="380.9" cy="210.4" r="1.4" fill="#dbb7c6" opacity="0.42"/>
<circle cx="381.2" cy="210.7" r="0.7" fill="#e3e4ea" opacity="0.6"/>
<circle cx="390.1" cy="218.2" r="1.4" fill="#b8bcd8" opacity="0.42"/>
<circle cx="390.4" cy="218.5" r="0.7" fill="#e3e4ea" opacity="0.6"/>
<circle cx="400.0" cy="238.2" r="1.4" fill="#dbb7c6" opacity="0.42"/>
<circle cx="400.3" cy="238.5" r="0.7" fill="#e3e4ea" opacity="0.6"/>
<circle cx="376.0" cy="211.3" r="1.4" fill="#dbb7c6" opacity="0.42"/>
<circle cx="376.3" cy="211.6" r="0.7" fill="#e3e4ea" opacity="0.6"/>
<circle cx="394.8" cy="221.9" r="1.4" fill="#dbb7c6" opacity="0.42"/>
<circle cx="395.1" cy="222.2" r="0.7" fill="#e3e4ea" opacity="0.6"/>
<circle cx="386.0" cy="227.1" r="1.4" fill="#dbb7c6" opacity="0.42"/>
<circle cx="386.3" cy="227.4" r="0.7" fill="#e3e4ea" opacity="0.6"/>
<circle cx="395.9" cy="234.0" r="1.4" fill="#dbb7c6" opacity="0.42"/>
<circle cx="396.2" cy="234.3" r="0.7" fill="#e3e4ea" opacity="0.6"/>
<circle cx="377.1" cy="233.8" r="1.4" fill="#dbb7c6" opacity="0.42"/>
<circle cx="377.4" cy="234.1" r="0.7" fill="#e3e4ea" opacity="0.6"/>
<circle cx="390.5" cy="219.7" r="1.4" fill="#b8bcd8" opacity="0.42"/>
<circle cx="390.8" cy="220.0" r="0.7" fill="#e3e4ea" opacity="0.6"/>
<circle cx="379.5" cy="215.9" r="1.4" fill="#dbb7c6" opacity="0.42"/>
<circle cx="379.8" cy="216.2" r="0.7" fill="#e3e4ea" opacity="0.6"/>
<circle cx="378.1" cy="235.1" r="1.4" fill="#dbb7c6" opacity="0.42"/>
<circle cx="378.4" cy="235.4" r="0.7" fill="#e3e4ea" opacity="0.6"/>
<circle cx="383.3" cy="220.4" r="1.4" fill="#b8bcd8" opacity="0.42"/>
<circle cx="383.6" cy="220.7" r="0.7" fill="#e3e4ea" opacity="0.6"/>
<circle cx="388.7" cy="215.4" r="1.4" fill="#b8bcd8" opacity="0.42"/>
<circle cx="389.0" cy="215.7" r="0.7" fill="#e3e4ea" opacity="0.6"/>
<circle cx="393.1" cy="238.3" r="1.4" fill="#dbb7c6" opacity="0.42"/>
<circle cx="393.4" cy="238.6" r="0.7" fill="#e3e4ea" opacity="0.6"/>
<circle cx="387.7" cy="233.1" r="1.4" fill="#b8bcd8" opacity="0.42"/>
<circle cx="388.0" cy="233.4" r="0.7" fill="#e3e4ea" opacity="0.6"/>
<circle cx="400.9" cy="209.6" r="1.4" fill="#dbb7c6" opacity="0.42"/>
<circle cx="401.2" cy="209.9" r="0.7" fill="#e3e4ea" opacity="0.6"/>
<circle cx="377.1" cy="214.1" r="1.4" fill="#b8bcd8" opacity="0.42"/>
<circle cx="377.4" cy="214.4" r="0.7" fill="#e3e4ea" opacity="0.6"/>
<circle cx="391.0" cy="236.5" r="1.4" fill="#dbb7c6" opacity="0.42"/>
<circle cx="391.3" cy="236.8" r="0.7" fill="#e3e4ea" opacity="0.6"/>
<circle cx="399.5" cy="222.0" r="1.4" fill="#dbb7c6" opacity="0.42"/>
<circle cx="399.8" cy="222.3" r="0.7" fill="#e3e4ea" opacity="0.6"/>
<circle cx="396.8" cy="237.0" r="1.4" fill="#dbb7c6" opacity="0.42"/>
<circle cx="397.1" cy="237.3" r="0.7" fill="#e3e4ea" opacity="0.6"/>
<circle cx="391.4" cy="227.1" r="1.4" fill="#dbb7c6" opacity="0.42"/>
<circle cx="391.7" cy="227.4" r="0.7" fill="#e3e4ea" opacity="0.6"/>
<circle cx="384.6" cy="212.7" r="1.4" fill="#dbb7c6" opacity="0.42"/>
<circle cx="384.9" cy="213.0" r="0.7" fill="#e3e4ea" opacity="0.6"/>
<circle cx="381.1" cy="226.5" r="1.4" fill="#dbb7c6" opacity="0.42"/>
<circle cx="381.4" cy="226.8" r="0.7" fill="#e3e4ea" opacity="0.6"/>
</g>
<rect x="406.80" y="206.40" width="34.0" height="34.2" fill="#d5d5d9"/>
<g filter="url(#soft)">
<circle cx="414.9" cy="208.7" r="1.4" fill="#dbb7c6" opacity="0.42"/>
<circle cx="415.2" cy="209.0" r="0.7" fill="#e3e4ea" opacity="0.6"/>
<circle cx="429.1" cy="214.0" r="1.4" fill="#dbb7c6" opacity="0.42"/>
<circle cx="429.4" cy="214.3" r="0.7" fill="#e3e4ea" opacity="0.6"/>
<circle cx="414.9" cy="232.4" r="1.4" fill="#dbb7c6" opacity="0.42"/>
<circle cx="415.2" cy="232.7" r="0.7" fill="#e3e4ea" opacity="0.6"/>
<circle cx="410.7" cy="211.5" r="1.4" fill="#dbb7c6" opacity="0.42"/>
<circle cx="411.0" cy="211.8" r="0.7" fill="#e3e4ea" opacity="0.6"/>
<circle cx="425.3" cy="227.7" r="1.4" fill="#dbb7c6" opacity="0.42"/>
<circle cx="425.6" cy="228.0" r="0.7" fill="#e3e4ea" opacity="0.6"/>
<circle cx="413.7" cy="229.4" r="1.4" fill="#dbb7c6" opacity="0.42"/>
<circle cx="414.0" cy="229.7" r="0.7" fill="#e3e4ea" opacity="0.6"/>
<circle cx="417.3" cy="217.7" r="1.4" fill="#b8bcd8" opacity="0.42"/>
<circle cx="417.6" cy="218.0" r="0.7" fill="#e3e4ea" opacity="0.6"/>
<circle cx="418.2" cy="225.5" r="1.4" fill="#dbb7c6" opacity="0.42"/>
<circle cx="418.5" cy="225.8" r="0.7" fill="#e3e4ea" opacity="0.6"/>
<circle cx="421.3" cy="234.5" r="1.4" fill="#b8bcd8" opacity="0.42"/>
<circle cx="421.6" cy="234.8" r="0.7" fill="#e3e4ea" opacity="0.6"/>
<circle cx="419.7" cy="214.4" r="1.4" fill="#b8bcd8" opacity="0.42"/>
<circle cx="420.0" cy="214.7" r="0.7" fill="#e3e4ea" opacity="0.6"/>
<circle cx="414.9" cy="208.6" r="1.4" fill="#b8bcd8" opacity="0.42"/>
<circle cx="415.2" cy="208.9" r="0.7" fill="#e3e4ea" opacity="0.6"/>
<circle cx="421.5" cy="233.2" r="1.4" fill="#dbb7c6" opacity="0.42"/>
<circle cx="421.8" cy="233.5" r="0.7" fill="#e3e4ea" opacity="0.6"/>
<circle cx="435.3" cy="222.3" r="1.4" fill="#dbb7c6" opacity="0.42"/>
<circle cx="435.6" cy="222.6" r="0.7" fill="#e3e4ea" opacity="0.6"/>
<circle cx="409.2" cy="225.1" r="1.4" fill="#dbb7c6" opacity="0.42"/>
<circle cx="409.5" cy="225.4" r="0.7" fill="#e3e4ea" opacity="0.6"/>
<circle cx="436.1" cy="211.1" r="1.4" fill="#dbb7c6" opacity="0.42"/>
<circle cx="436.4" cy="211.4" r="0.7" fill="#e3e4ea" opacity="0.6"/>
<circle cx="419.9" cy="223.6" r="1.4" fill="#dbb7c6" opacity="0.42"/>
<circle cx="420.2" cy="223.9" r="0.7" fill="#e3e4ea" opacity="0.6"/>
<circle cx="417.3" cy="224.1" r="1.4" fill="#b8bcd8" opacity="0.42"/>
<circle cx="417.6" cy="224.4" r="0.7" fill="#e3e4ea" opacity="0.6"/>
<circle cx="412.1" cy="223.2" r="1.4" fill="#b8bcd8" opacity="0.42"/>
<circle cx="412.4" cy="223.5" r="0.7" fill="#e3e4ea" opacity="0.6"/>
<circle cx="437.8" cy="214.4" r="1.4" fill="#dbb7c6" opacity="0.42"/>
<circle cx="438.1" cy="214.7" r="0.7" fill="#e3e4ea" opacity="0.6"/>
<circle cx="437.1" cy="237.9" r="1.4" fill="#dbb7c6" opacity="0.42"/>
<circle cx="437.4" cy="238.2" r="0.7" fill="#e3e4ea" opacity="0.6"/>
<circle cx="410.4" cy="236.4" r="1.4" fill="#dbb7c6" opacity="0.42"/>
<circle cx="410.7" cy="236.7" r="0.7" fill="#e3e4ea" opacity="0.6"/>
<circle cx="435.9" cy="227.1" r="1.4" fill="#b8bcd8" opacity="0.42"/>
<circle cx="436.2" cy="227.4" r="0.7" fill="#e3e4ea" opacity="0.6"/>
<circle cx="413.6" cy="232.1" r="1.4" fill="#dbb7c6" opacity="0.42"/>
<circle cx="413.9" cy="232.4" r="0.7" fill="#e3e4ea" opacity="0.6"/>
<circle cx="420.9" cy="234.0" r="1.4" fill="#b8bcd8" opacity="0.42"/>
<circle cx="421.2" cy="234.3" r="0.7" fill="#e3e4ea" opacity="0.6"/>
<circle cx="414.3" cy="215.0" r="1.4" fill="#dbb7c6" opacity="0.42"/>
<circle cx="414.6" cy="215.3" r="0.7" fill="#e3e4ea" opacity="0.6"/>
<circle cx="424.3" cy="220.0" r="1.4" fill="#dbb7c6" opacity="0.42"/>
<circle cx="424.6" cy="220.3" r="0.7" fill="#e3e4ea" opacity="0.6"/>
<circle cx="416.2" cy="230.3" r="1.4" fill="#b8bcd8" opacity="0.42"/>
<circle cx="416.5" cy="230.6" r="0.7" fill="#e3e4ea" opacity="0.6"/>
<circle cx="410.0" cy="225.4" r="1.4" fill="#b8bcd8" opacity="0.42"/>
<circle cx="410.3" cy="225.7" r="0.7" fill="#e3e4ea" opacity="0.6"/>
<circle cx="409.9" cy="233.7" r="1.4" fill="#dbb7c6" opacity="0.42"/>
<circle cx="410.2" cy="234.0" r="0.7" fill="#e3e4ea" opacity="0.6"/>
<circle cx="426.8" cy="225.0" r="1.4" fill="#dbb7c6" opacity="0.42"/>
<circle cx="427.1" cy="225.3" r="0.7" fill="#e3e4ea" opacity="0.6"/>
<circle cx="418.0" cy="221.1" r="1.4" fill="#dbb7c6" opacity="0.42"/>
<circle cx="418.3" cy="221.4" r="0.7" fill="#e3e4ea" opacity="0.6"/>
<circle cx="421.6" cy="228.3" r="1.4" fill="#dbb7c6" opacity="0.42"/>
<circle cx="421.9" cy="228.6" r="0.7" fill="#e3e4ea" opacity="0.6"/>
<circle cx="422.0" cy="209.1" r="1.4" fill="#dbb7c6" opacity="0.42"/>
<circle cx="422.3" cy="209.4" r="0.7" fill="#e3e4ea" opacity="0.6"/>
<circle cx="423.5" cy="215.5" r="1.4" fill="#b8bcd8" opacity="0.42"/>
<circle cx="423.8" cy="215.8" r="0.7" fill="#e3e4ea" opacity="0.6"/>
<circle cx="432.2" cy="222.2" r="1.4" fill="#dbb7c6" opacity="0.42"/>
<circle cx="432.5" cy="222.5" r="0.7" fill="#e3e4ea" opacity="0.6"/>
<circle cx="423.0" cy="211.6" r="1.4" fill="#dbb7c6" opacity="0.42"/>
<circle cx="423.3" cy="211.9" r="0.7" fill="#e3e4ea" opacity="0.6"/>
<circle cx="421.7" cy="211.2" r="1.4" fill="#dbb7c6" opacity="0.42"/>
<circle cx="422.0" cy="211.5" r="0.7" fill="#e3e4ea" opacity="0.6"/>
<circle cx="424.1" cy="209.6" r="1.4" fill="#dbb7c6" opacity="0.42"/>
<circle cx="424.4" cy="209.9" r="0.7" fill="#e3e4ea" opacity="0.6"/>
<circle cx="411.3" cy="230.6" r="1.4" fill="#b8bcd8" opacity="0.42"/>
<circle cx="411.6" cy="230.9" r="0.7" fill="#e3e4ea" opacity="0.6"/>
</g>
<rect x="441.90" y="206.40" width="34.0" height="34.2" fill="#d8d5d8"/>
<g filter="url(#soft)">
<circle cx="459.2" cy="210.0" r="1.4" fill="#dbb7c6" opacity="0.42"/>
<circle cx="459.5" cy="210.3" r="0.7" fill="#e3e4ea" opacity="0.6"/>
<circle cx="455.2" cy="237.1" r="1.4" fill="#dbb7c6" opacity="0.42"/>
<circle cx="455.5" cy="237.4" r="0.7" fill="#e3e4ea" opacity="0.6"/>
<circle cx="469.6" cy="238.5" r="1.4" fill="#b8bcd8" opacity="0.42"/>
<circle cx="469.9" cy="238.8" r="0.7" fill="#e3e4ea" opacity="0.6"/>
<circle cx="468.3" cy="214.2" r="1.4" fill="#b8bcd8" opacity="0.42"/>
<circle cx="468.6" cy="214.5" r="0.7" fill="#e3e4ea" opacity="0.6"/>
<circle cx="458.7" cy="237.3" r="1.4" fill="#b8bcd8" opacity="0.42"/>
<circle cx="459.0" cy="237.6" r="0.7" fill="#e3e4ea" opacity="0.6"/>
<circle cx="448.9" cy="232.2" r="1.4" fill="#b8bcd8" opacity="0.42"/>
<circle cx="449.2" cy="232.5" r="0.7" fill="#e3e4ea" opacity="0.6"/>
<circle cx="445.9" cy="219.0" r="1.4" fill="#b8bcd8" opacity="0.42"/>
<circle cx="446.2" cy="219.3" r="0.7" fill="#e3e4ea" opacity="0.6"/>
<circle cx="448.7" cy="235.5" r="1.4" fill="#dbb7c6" opacity="0.42"/>
<circle cx="449.0" cy="235.8" r="0.7" fill="#e3e4ea" opacity="0.6"/>
<circle cx="468.4" cy="212.7" r="1.4" fill="#dbb7c6" opacity="0.42"/>
<circle cx="468.7" cy="213.0" r="0.7" fill="#e3e4ea" opacity="0.6"/>
<circle cx="471.5" cy="214.7" r="1.4" fill="#dbb7c6" opacity="0.42"/>
<circle cx="471.8" cy="215.0" r="0.7" fill="#e3e4ea" opacity="0.6"/>
<circle cx="459.1" cy="218.0" r="1.4" fill="#dbb7c6" opacity="0.42"/>
<circle cx="459.4" cy="218.3" r="0.7" fill="#e3e4ea" opacity="0.6"/>
<circle cx="449.4" cy="213.3" r="1.4" fill="#b8bcd8" opacity="0.42"/>
<circle cx="449.7" cy="213.6" r="0.7" fill="#e3e4ea" opacity="0.6"/>
<circle cx="464.3" cy="235.4" r="1.4" fill="#dbb7c6" opacity="0.42"/>
<circle cx="464.6" cy="235.7" r="0.7" fill="#e3e4ea" opacity="0.6"/>
<circle cx="467.4" cy="211.9" r="1.4" fill="#dbb7c6" opacity="0.42"/>
<circle cx="467.7" cy="212.2" r="0.7" fill="#e3e4ea" opacity="0.6"/>
<circle cx="463.0" cy="219.3" r="1.4" fill="#b8bcd8" opacity="0.42"/>
<circle cx="463.3" cy="219.6" r="0.7" fill="#e3e4ea" opacity="0.6"/>
<circle cx="460.6" cy="225.9" r="1.4" fill="#b8bcd8" opacity="0.42"/>
<circle cx="460.9" cy="226.2" r="0.7" fill="#e3e4ea" opacity="0.6"/>
<circle cx="447.0" cy="238.4" r="1.4" fill="#dbb7c6" opacity="0.42"/>
<circle cx="447.3" cy="238.7" r="0.7" fill="#e3e4ea" opacity="0.6"/>
<circle cx="455.7" cy="232.5" r="1.4" fill="#dbb7c6" opacity="0.42"/>
<circle cx="456.0" cy="232.8" r="0.7" fill="#e3e4ea" opacity="0.6"/>
<circle cx="473.6" cy="225.8" r="1.4" fill="#dbb7c6" opacity="0.42"/>
<circle cx="473.9" cy="226.1" r="0.7" fill="#e3e4ea" opacity="0.6"/>
<circle cx="466.8" cy="221.8" r="1.4" fill="#dbb7c6" opacity="0.42"/>
<circle cx="467.1" cy="222.1" r="0.7" fill="#e3e4ea" opacity="0.6"/>
<circle cx="466.2" cy="209.9" r="1.4" fill="#b8bcd8" opacity="0.42"/>
<circle cx="466.5" cy="210.2" r="0.7" fill="#e3e4ea" opacity="0.6"/>
<circle cx="451.5" cy="227.7" r="1.4" fill="#b8bcd8" opacity="0.42"/>
<circle cx="451.8" cy="228.0" r="0.7" fill="#e3e4ea" opacity="0.6"/>
<circle cx="461.5" cy="228.4" r="1.4" fill="#dbb7c6" opacity="0.42"/>
<circle cx="461.8" cy="228.7" r="0.7" fill="#e3e4ea" opacity="0.6"/>
<circle cx="444.0" cy="209.4" r="1.4" fill="#dbb7c6" opacity="0.42"/>
<circle cx="444.3" cy="209.7" r="0.7" fill="#e3e4ea" opacity="0.6"/>
<circle cx="462.4" cy="221.5" r="1.4" fill="#dbb7c6" opacity="0.42"/>
<circle cx="462.7" cy="221.8" r="0.7" fill="#e3e4ea" opacity="0.6"/>
<circle cx="470.8" cy="212.4" r="1.4" fill="#dbb7c6" opacity="0.42"/>
<circle cx="471.1" cy="212.7" r="0.7" fill="#e3e4ea" opacity="0.6"/>
<circle cx="463.5" cy="209.1" r="1.4" fill="#dbb7c6" opacity="0.42"/>
<circle cx="463.8" cy="209.4" r="0.7" fill="#e3e4ea" opacity="0.6"/>
<circle cx="454.5" cy="211.6" r="1.4" fill="#dbb7c6" opacity="0.42"/>
<circle cx="454.8" cy="211.9" r="0.7" fill="#e3e4ea" opacity="0.6"/>
<circle cx="450.6" cy="226.0" r="1.4" fill="#dbb7c6" opacity="0.42"/>
<circle cx="450.9" cy="226.3" r="0.7" fill="#e3e4ea" opacity="0.6"/>
<circle cx="450.0" cy="227.2" r="1.4" fill="#dbb7c6" opacity="0.42"/>
<circle cx="450.3" cy="227.5" r="0.7" fill="#e3e4ea" opacity="0.6"/>
<circle cx="447.9" cy="236.7" r="1.4" fill="#dbb7c6" opacity="0.42"/>
<circle cx="448.2" cy="237.0" r="0.7" fill="#e3e4ea" opacity="0.6"/>
</g>
<rect x="477.20" y="206.40" width="34.0" height="34.2" fill="#d6d4d7"/>
<g filter="url(#soft)">
<circle cx="483.7" cy="211.3" r="1.4" fill="#dbb7c6" opacity="0.42"/>
<circle cx="484.0" cy="211.6" r="0.7" fill="#e3e4ea" opacity="0.6"/>
<circle cx="505.3" cy="232.0" r="1.4" fill="#dbb7c6" opacity="0.42"/>
<circle cx="505.6" cy="232.3" r="0.7" fill="#e3e4ea" opacity="0.6"/>
<circle cx="487.1" cy="208.7" r="1.4" fill="#dbb7c6" opacity="0.42"/>
<circle cx="487.4" cy="209.0" r="0.7" fill="#e3e4ea" opacity="0.6"/>
<circle cx="496.1" cy="219.0" r="1.4" fill="#dbb7c6" opacity="0.42"/>
<circle cx="496.4" cy="219.3" r="0.7" fill="#e3e4ea" opacity="0.6"/>
<circle cx="492.5" cy="236.7" r="1.4" fill="#b8bcd8" opacity="0.42"/>
<circle cx="492.8" cy="237.0" r="0.7" fill="#e3e4ea" opacity="0.6"/>
<circle cx="486.7" cy="235.7" r="1.4" fill="#dbb7c6" opacity="0.42"/>
<circle cx="487.0" cy="236.0" r="0.7" fill="#e3e4ea" opacity="0.6"/>
<circle cx="495.1" cy="220.7" r="1.4" fill="#dbb7c6" opacity="0.42"/>
<circle cx="495.4" cy="221.0" r="0.7" fill="#e3e4ea" opacity="0.6"/>
<circle cx="481.0" cy="231.9" r="1.4" fill="#dbb7c6" opacity="0.42"/>
<circle cx="481.3" cy="232.2" r="0.7" fill="#e3e4ea" opacity="0.6"/>
<circle cx="495.7" cy="236.8" r="1.4" fill="#dbb7c6" opacity="0.42"/>
<circle cx="496.0" cy="237.1" r="0.7" fill="#e3e4ea" opacity="0.6"/>
<circle cx="485.2" cy="226.8" r="1.4" fill="#dbb7c6" opacity="0.42"/>
<circle cx="485.5" cy="227.1" r="0.7" fill="#e3e4ea" opacity="0.6"/>
<circle cx="498.4" cy="233.0" r="1.4" fill="#dbb7c6" opacity="0.42"/>
<circle cx="498.7" cy="233.3" r="0.7" fill="#e3e4ea" opacity="0.6"/>
<circle cx="488.5" cy="217.5" r="1.4" fill="#dbb7c6" opacity="0.42"/>
<circle cx="488.8" cy="217.8" r="0.7" fill="#e3e4ea" opacity="0.6"/>
<circle cx="505.9" cy="232.0" r="1.4" fill="#b8bcd8" opacity="0.42"/>
<circle cx="506.2" cy="232.3" r="0.7" fill="#e3e4ea" opacity="0.6"/>
<circle cx="479.4" cy="233.9" r="1.4" fill="#b8bcd8" opacity="0.42"/>
<circle cx="479.7" cy="234.2" r="0.7" fill="#e3e4ea" opacity="0.6"/>
<circle cx="493.2" cy="230.8" r="1.4" fill="#dbb7c6" opacity="0.42"/>
<circle cx="493.5" cy="231.1" r="0.7" fill="#e3e4ea" opacity="0.6"/>
<circle cx="486.0" cy="211.6" r="1.4" fill="#dbb7c6" opacity="0.42"/>
<circle cx="486.3" cy="211.9" r="0.7" fill="#e3e4ea" opacity="0.6"/>
<circle cx="480.4" cy="218.5" r="1.4" fill="#b8bcd8" opacity="0.42"/>
<circle cx="480.7" cy="218.8" r="0.7" fill="#e3e4ea" opacity="0.6"/>
<circle cx="500.1" cy="233.9" r="1.4" fill="#b8bcd8" opacity="0.42"/>
<circle cx="500.4" cy="234.2" r="0.7" fill="#e3e4ea" opacity="0.6"/>
<circle cx="487.2" cy="225.1" r="1.4" fill="#dbb7c6" opacity="0.42"/>
<circle cx="487.5" cy="225.4" r="0.7" fill="#e3e4ea" opacity="0.6"/>
<circle cx="502.9" cy="224.2" r="1.4" fill="#dbb7c6" opacity="0.42"/>
<circle cx="503.2" cy="224.5" r="0.7" fill="#e3e4ea" opacity="0.6"/>
<circle cx="498.5" cy="237.5" r="1.4" fill="#dbb7c6" opacity="0.42"/>
<circle cx="498.8" cy="237.8" r="0.7" fill="#e3e4ea" opacity="0.6"/>
<circle cx="505.6" cy="208.9" r="1.4" fill="#dbb7c6" opacity="0.42"/>
<circle cx="505.9" cy="209.2" r="0.7" fill="#e3e4ea" opacity="0.6"/>
<circle cx="486.3" cy="230.9" r="1.4" fill="#b8bcd8" opacity="0.42"/>
<circle cx="486.6" cy="231.2" r="0.7" fill="#e3e4ea" opacity="0.6"/>
<circle cx="501.6" cy="218.3" r="1.4" fill="#b8bcd8" opacity="0.42"/>
<circle cx="501.9" cy="218.6" r="0.7" fill="#e3e4ea" opacity="0.6"/>
<circle cx="489.1" cy="215.6" r="1.4" fill="#b8bcd8" opacity="0.42"/>
<circle cx="489.4" cy="215.9" r="0.7" fill="#e3e4ea" opacity="0.6"/>
<circle cx="498.1" cy="229.3" r="1.4" fill="#dbb7c6" opacity="0.42"/>
<circle cx="498.4" cy="229.6" r="0.7" fill="#e3e4ea" opacity="0.6"/>
<circle cx="508.6" cy="222.6" r="1.4" fill="#b8bcd8" opacity="0.42"/>
<circle cx="508.9" cy="222.9" r="0.7" fill="#e3e4ea" opacity="0.6"/>
<circle cx="500.1" cy="234.3" r="1.4" fill="#dbb7c6" opacity="0.42"/>
<circle cx="500.4" cy="234.6" r="0.7" fill="#e3e4ea" opacity="0.6"/>
<circle cx="500.9" cy="225.6" r="1.4" fill="#dbb7c6" opacity="0.42"/>
<circle cx="501.2" cy="225.9" r="0.7" fill="#e3e4ea" opacity="0.6"/>
<circle cx="485.6" cy="227.2" r="1.4" fill="#dbb7c6" opacity="0.42"/>
<circle cx="485.9" cy="227.5" r="0.7" fill="#e3e4ea" opacity="0.6"/>
<circle cx="506.5" cy="212.8" r="1.4" fill="#dbb7c6" opacity="0.42"/>
<circle cx="506.8" cy="213.1" r="0.7" fill="#e3e4ea" opacity="0.6"/>
<circle cx="482.4" cy="236.5" r="1.4" fill="#dbb7c6" opacity="0.42"/>
<circle cx="482.7" cy="236.8" r="0.7" fill="#e3e4ea" opacity="0.6"/>
<circle cx="483.5" cy="209.3" r="1.4" fill="#dbb7c6" opacity="0.42"/>
<circle cx="483.8" cy="209.6" r="0.7" fill="#e3e4ea" opacity="0.6"/>
<circle cx="500.0" cy="227.5" r="1.4" fill="#dbb7c6" opacity="0.42"/>
<circle cx="500.3" cy="227.8" r="0.7" fill="#e3e4ea" opacity="0.6"/>
<circle cx="501.3" cy="210.4" r="1.4" fill="#dbb7c6" opacity="0.42"/>
<circle cx="501.6" cy="210.7" r="0.7" fill="#e3e4ea" opacity="0.6"/>
<circle cx="490.1" cy="233.1" r="1.4" fill="#b8bcd8" opacity="0.42"/>
<circle cx="490.4" cy="233.4" r="0.7" fill="#e3e4ea" opacity="0.6"/>
</g>
<rect x="512.40" y="206.40" width="34.0" height="34.2" fill="#cacad1"/>
<g filter="url(#soft)">
<circle cx="541.1" cy="210.4" r="1.4" fill="#b8bcd8" opacity="0.42"/>
<circle cx="541.4" cy="210.7" r="0.7" fill="#e3e4ea" opacity="0.6"/>
<circle cx="541.8" cy="236.9" r="1.4" fill="#dbb7c6" opacity="0.42"/>
<circle cx="542.1" cy="237.2" r="0.7" fill="#e3e4ea" opacity="0.6"/>
<circle cx="520.6" cy="211.8" r="1.4" fill="#dbb7c6" opacity="0.42"/>
<circle cx="520.9" cy="212.1" r="0.7" fill="#e3e4ea" opacity="0.6"/>
<circle cx="539.8" cy="232.9" r="1.4" fill="#dbb7c6" opacity="0.42"/>
<circle cx="540.1" cy="233.2" r="0.7" fill="#e3e4ea" opacity="0.6"/>
<circle cx="539.2" cy="227.5" r="1.4" fill="#dbb7c6" opacity="0.42"/>
<circle cx="539.5" cy="227.8" r="0.7" fill="#e3e4ea" opacity="0.6"/>
<circle cx="517.4" cy="211.4" r="1.4" fill="#b8bcd8" opacity="0.42"/>
<circle cx="517.7" cy="211.7" r="0.7" fill="#e3e4ea" opacity="0.6"/>
<circle cx="520.5" cy="218.0" r="1.4" fill="#dbb7c6" opacity="0.42"/>
<circle cx="520.8" cy="218.3" r="0.7" fill="#e3e4ea" opacity="0.6"/>
<circle cx="515.0" cy="216.2" r="1.4" fill="#dbb7c6" opacity="0.42"/>
<circle cx="515.3" cy="216.5" r="0.7" fill="#e3e4ea" opacity="0.6"/>
<circle cx="535.9" cy="219.5" r="1.4" fill="#dbb7c6" opacity="0.42"/>
<circle cx="536.2" cy="219.8" r="0.7" fill="#e3e4ea" opacity="0.6"/>
<circle cx="543.3" cy="223.6" r="1.4" fill="#b8bcd8" opacity="0.42"/>
<circle cx="543.6" cy="223.9" r="0.7" fill="#e3e4ea" opacity="0.6"/>
<circle cx="532.9" cy="209.3" r="1.4" fill="#dbb7c6" opacity="0.42"/>
<circle cx="533.2" cy="209.6" r="0.7" fill="#e3e4ea" opacity="0.6"/>
<circle cx="527.5" cy="231.7" r="1.4" fill="#dbb7c6" opacity="0.42"/>
<circle cx="527.8" cy="232.0" r="0.7" fill="#e3e4ea" opacity="0.6"/>
<circle cx="535.5" cy="224.6" r="1.4" fill="#dbb7c6" opacity="0.42"/>
<circle cx="535.8" cy="224.9" r="0.7" fill="#e3e4ea" opacity="0.6"/>
<circle cx="540.3" cy="211.1" r="1.4" fill="#b8bcd8" opacity="0.42"/>
<circle cx="540.6" cy="211.4" r="0.7" fill="#e3e4ea" opacity="0.6"/>
<circle cx="519.5" cy="208.4" r="1.4" fill="#dbb7c6" opacity="0.42"/>
<circle cx="519.8" cy="208.7" r="0.7" fill="#e3e4ea" opacity="0.6"/>
<circle cx="537.3" cy="237.9" r="1.4" fill="#dbb7c6" opacity="0.42"/>
<circle cx="537.6" cy="238.2" r="0.7" fill="#e3e4ea" opacity="0.6"/>
<circle cx="529.1" cy="223.2" r="1.4" fill="#b8bcd8" opacity="0.42"/>
<circle cx="529.4" cy="223.5" r="0.7" fill="#e3e4ea" opacity="0.6"/>
<circle cx="519.9" cy="223.3" r="1.4" fill="#dbb7c6" opacity="0.42"/>
<circle cx="520.2" cy="223.6" r="0.7" fill="#e3e4ea" opacity="0.6"/>
<circle cx="539.4" cy="216.3" r="1.4" fill="#b8bcd8" opacity="0.42"/>
<circle cx="539.7" cy="216.6" r="0.7" fill="#e3e4ea" opacity="0.6"/>
<circle cx="522.9" cy="214.9" r="1.4" fill="#dbb7c6" opacity="0.42"/>
<circle cx="523.2" cy="215.2" r="0.7" fill="#e3e4ea" opacity="0.6"/>
<circle cx="529.3" cy="211.7" r="1.4" fill="#dbb7c6" opacity="0.42"/>
<circle cx="529.6" cy="212.0" r="0.7" fill="#e3e4ea" opacity="0.6"/>
<circle cx="516.8" cy="232.2" r="1.4" fill="#dbb7c6" opacity="0.42"/>
<circle cx="517.1" cy="232.5" r="0.7" fill="#e3e4ea" opacity="0.6"/>
<circle cx="538.0" cy="227.4" r="1.4" fill="#dbb7c6" opacity="0.42"/>
<circle cx="538.3" cy="227.7" r="0.7" fill="#e3e4ea" opacity="0.6"/>
<circle cx="526.4" cy="220.3" r="1.4" fill="#b8bcd8" opacity="0.42"/>
<circle cx="526.7" cy="220.6" r="0.7" fill="#e3e4ea" opacity="0.6"/>
<circle cx="517.0" cy="235.2" r="1.4" fill="#dbb7c6" opacity="0.42"/>
<circle cx="517.3" cy="235.5" r="0.7" fill="#e3e4ea" opacity="0.6"/>
<circle cx="520.6" cy="216.3" r="1.4" fill="#b8bcd8" opacity="0.42"/>
<circle cx="520.9" cy="216.6" r="0.7" fill="#e3e4ea" opacity="0.6"/>
<circle cx="529.4" cy="219.9" r="1.4" fill="#b8bcd8" opacity="0.42"/>
<circle cx="529.7" cy="220.2" r="0.7" fill="#e3e4ea" opacity="0.6"/>
<circle cx="521.4" cy="222.3" r="1.4" fill="#dbb7c6" opacity="0.42"/>
<circle cx="521.7" cy="222.6" r="0.7" fill="#e3e4ea" opacity="0.6"/>
<circle cx="537.0" cy="231.1" r="1.4" fill="#dbb7c6" opacity="0.42"/>
<circle cx="537.3" cy="231.4" r="0.7" fill="#e3e4ea" opacity="0.6"/>
<circle cx="524.9" cy="218.3" r="1.4" fill="#dbb7c6" opacity="0.42"/>
<circle cx="525.2" cy="218.6" r="0.7" fill="#e3e4ea" opacity="0.6"/>
<circle cx="539.7" cy="228.4" r="1.4" fill="#b8bcd8" opacity="0.42"/>
<circle cx="540.0" cy="228.7" r="0.7" fill="#e3e4ea" opacity="0.6"/>
<circle cx="519.5" cy="221.7" r="1.4" fill="#b8bcd8" opacity="0.42"/>
<circle cx="519.8" cy="222.0" r="0.7" fill="#e3e4ea" opacity="0.6"/>
<circle cx="531.8" cy="212.2" r="1.4" fill="#dbb7c6" opacity="0.42"/>
<circle cx="532.1" cy="212.5" r="0.7" fill="#e3e4ea" opacity="0.6"/>
<circle cx="541.0" cy="215.6" r="1.4" fill="#dbb7c6" opacity="0.42"/>
<circle cx="541.3" cy="215.9" r="0.7" fill="#e3e4ea" opacity="0.6"/>
<circle cx="523.4" cy="229.6" r="1.4" fill="#b8bcd8" opacity="0.42"/>
<circle cx="523.7" cy="229.9" r="0.7" fill="#e3e4ea" opacity="0.6"/>
<circle cx="519.0" cy="213.1" r="1.4" fill="#dbb7c6" opacity="0.42"/>
<circle cx="519.3" cy="213.4" r="0.7" fill="#e3e4ea" opacity="0.6"/>
<circle cx="524.2" cy="224.2" r="1.4" fill="#dbb7c6" opacity="0.42"/>
<circle cx="524.5" cy="224.5" r="0.7" fill="#e3e4ea" opacity="0.6"/>
<circle cx="524.2" cy="214.1" r="1.4" fill="#b8bcd8" opacity="0.42"/>
<circle cx="524.5" cy="214.4" r="0.7" fill="#e3e4ea" opacity="0.6"/>
<circle cx="536.3" cy="211.5" r="1.4" fill="#b8bcd8" opacity="0.42"/>
<circle cx="536.6" cy="211.8" r="0.7" fill="#e3e4ea" opacity="0.6"/>
</g>
<text x="539.8" y="236.4" font-family="'Liberation Serif', 'Times New Roman', serif" font-size="3.3" font-weight="bold" text-anchor="middle" fill="#222" stroke="#222" stroke-width="0.1" >20μm</text>
<line x1="536.9" y1="238.0" x2="542.7" y2="238.0" stroke="#222" stroke-width="0.7"/>
</svg>
</body></html>
